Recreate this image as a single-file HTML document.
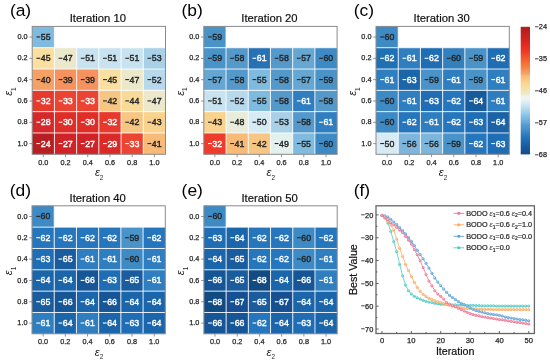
<!DOCTYPE html><html><head><meta charset="utf-8"><style>html,body{margin:0;padding:0;background:#fff;}svg{display:block;filter:blur(0.35px);}text{font-family:"Liberation Sans", sans-serif;}</style></head><body>
<svg width="550" height="362" viewBox="0 0 550 362">
<rect width="550" height="362" fill="#fff"/>
<text x="9.90" y="16.40" font-size="17.4" fill="#000">(a)</text>
<text x="97.85" y="22.20" font-size="11.25" fill="#111" stroke="#111" stroke-width="0.2" text-anchor="middle">Iteration 10</text>
<rect x="32.20" y="26.40" width="22.22" height="21.32" fill="#7EBBDF"/>
<rect x="32.20" y="47.72" width="22.22" height="21.32" fill="#F9DFA0"/>
<rect x="54.42" y="47.72" width="22.22" height="21.32" fill="#ECE8CC"/>
<rect x="76.63" y="47.72" width="22.22" height="21.32" fill="#C8E3EF"/>
<rect x="98.85" y="47.72" width="22.22" height="21.32" fill="#C8E3EF"/>
<rect x="121.07" y="47.72" width="22.22" height="21.32" fill="#C8E3EF"/>
<rect x="143.28" y="47.72" width="22.22" height="21.32" fill="#A8D0E6"/>
<rect x="32.20" y="69.03" width="22.22" height="21.32" fill="#F5A065"/>
<rect x="54.42" y="69.03" width="22.22" height="21.32" fill="#F5925E"/>
<rect x="76.63" y="69.03" width="22.22" height="21.32" fill="#F5925E"/>
<rect x="98.85" y="69.03" width="22.22" height="21.32" fill="#F9DFA0"/>
<rect x="121.07" y="69.03" width="22.22" height="21.32" fill="#ECE8CC"/>
<rect x="143.28" y="69.03" width="22.22" height="21.32" fill="#B8D9EB"/>
<rect x="32.20" y="90.35" width="22.22" height="21.32" fill="#E8392D"/>
<rect x="54.42" y="90.35" width="22.22" height="21.32" fill="#EB4432"/>
<rect x="76.63" y="90.35" width="22.22" height="21.32" fill="#EB4432"/>
<rect x="98.85" y="90.35" width="22.22" height="21.32" fill="#F8C683"/>
<rect x="121.07" y="90.35" width="22.22" height="21.32" fill="#F9DA98"/>
<rect x="143.28" y="90.35" width="22.22" height="21.32" fill="#ECE8CC"/>
<rect x="32.20" y="111.67" width="22.22" height="21.32" fill="#D5282A"/>
<rect x="54.42" y="111.67" width="22.22" height="21.32" fill="#DE2E27"/>
<rect x="76.63" y="111.67" width="22.22" height="21.32" fill="#DE2E27"/>
<rect x="98.85" y="111.67" width="22.22" height="21.32" fill="#E8392D"/>
<rect x="121.07" y="111.67" width="22.22" height="21.32" fill="#F8C683"/>
<rect x="143.28" y="111.67" width="22.22" height="21.32" fill="#F9D28D"/>
<rect x="32.20" y="132.98" width="22.22" height="21.32" fill="#B71F22"/>
<rect x="54.42" y="132.98" width="22.22" height="21.32" fill="#CF2328"/>
<rect x="76.63" y="132.98" width="22.22" height="21.32" fill="#CF2328"/>
<rect x="98.85" y="132.98" width="22.22" height="21.32" fill="#DA2A28"/>
<rect x="121.07" y="132.98" width="22.22" height="21.32" fill="#EB4432"/>
<rect x="143.28" y="132.98" width="22.22" height="21.32" fill="#F8BA78"/>
<line x1="54.42" y1="47.72" x2="54.42" y2="154.30" stroke="#fff" stroke-width="0.85"/>
<line x1="76.63" y1="47.72" x2="76.63" y2="154.30" stroke="#fff" stroke-width="0.85"/>
<line x1="98.85" y1="47.72" x2="98.85" y2="154.30" stroke="#fff" stroke-width="0.85"/>
<line x1="121.07" y1="47.72" x2="121.07" y2="154.30" stroke="#fff" stroke-width="0.85"/>
<line x1="143.28" y1="47.72" x2="143.28" y2="154.30" stroke="#fff" stroke-width="0.85"/>
<line x1="54.42" y1="26.40" x2="54.42" y2="47.72" stroke="#fff" stroke-width="0.85"/>
<line x1="32.20" y1="47.72" x2="165.50" y2="47.72" stroke="#fff" stroke-width="0.85"/>
<line x1="32.20" y1="69.03" x2="165.50" y2="69.03" stroke="#fff" stroke-width="0.85"/>
<line x1="32.20" y1="90.35" x2="165.50" y2="90.35" stroke="#fff" stroke-width="0.85"/>
<line x1="32.20" y1="111.67" x2="165.50" y2="111.67" stroke="#fff" stroke-width="0.85"/>
<line x1="32.20" y1="132.98" x2="165.50" y2="132.98" stroke="#fff" stroke-width="0.85"/>
<rect x="36.41" y="36.41" width="3.8" height="1.1" fill="#262626"/>
<text x="40.76" y="40.06" font-size="8.8" fill="#262626" stroke="#262626" stroke-width="0.4">55</text>
<rect x="36.41" y="57.73" width="3.8" height="1.1" fill="#262626"/>
<text x="40.76" y="61.38" font-size="8.8" fill="#262626" stroke="#262626" stroke-width="0.4">45</text>
<rect x="58.63" y="57.73" width="3.8" height="1.1" fill="#262626"/>
<text x="62.98" y="61.38" font-size="8.8" fill="#262626" stroke="#262626" stroke-width="0.4">47</text>
<rect x="80.84" y="57.73" width="3.8" height="1.1" fill="#262626"/>
<text x="85.19" y="61.38" font-size="8.8" fill="#262626" stroke="#262626" stroke-width="0.4">51</text>
<rect x="103.06" y="57.73" width="3.8" height="1.1" fill="#262626"/>
<text x="107.41" y="61.38" font-size="8.8" fill="#262626" stroke="#262626" stroke-width="0.4">51</text>
<rect x="125.28" y="57.73" width="3.8" height="1.1" fill="#262626"/>
<text x="129.62" y="61.38" font-size="8.8" fill="#262626" stroke="#262626" stroke-width="0.4">51</text>
<rect x="147.49" y="57.73" width="3.8" height="1.1" fill="#262626"/>
<text x="151.84" y="61.38" font-size="8.8" fill="#262626" stroke="#262626" stroke-width="0.4">53</text>
<rect x="36.41" y="79.04" width="3.8" height="1.1" fill="#262626"/>
<text x="40.76" y="82.69" font-size="8.8" fill="#262626" stroke="#262626" stroke-width="0.4">40</text>
<rect x="58.63" y="79.04" width="3.8" height="1.1" fill="#262626"/>
<text x="62.98" y="82.69" font-size="8.8" fill="#262626" stroke="#262626" stroke-width="0.4">39</text>
<rect x="80.84" y="79.04" width="3.8" height="1.1" fill="#262626"/>
<text x="85.19" y="82.69" font-size="8.8" fill="#262626" stroke="#262626" stroke-width="0.4">39</text>
<rect x="103.06" y="79.04" width="3.8" height="1.1" fill="#262626"/>
<text x="107.41" y="82.69" font-size="8.8" fill="#262626" stroke="#262626" stroke-width="0.4">45</text>
<rect x="125.28" y="79.04" width="3.8" height="1.1" fill="#262626"/>
<text x="129.62" y="82.69" font-size="8.8" fill="#262626" stroke="#262626" stroke-width="0.4">47</text>
<rect x="147.49" y="79.04" width="3.8" height="1.1" fill="#262626"/>
<text x="151.84" y="82.69" font-size="8.8" fill="#262626" stroke="#262626" stroke-width="0.4">52</text>
<rect x="36.41" y="100.36" width="3.8" height="1.1" fill="#ffffff"/>
<text x="40.76" y="104.01" font-size="8.8" fill="#ffffff" stroke="#ffffff" stroke-width="0.4">32</text>
<rect x="58.63" y="100.36" width="3.8" height="1.1" fill="#ffffff"/>
<text x="62.98" y="104.01" font-size="8.8" fill="#ffffff" stroke="#ffffff" stroke-width="0.4">33</text>
<rect x="80.84" y="100.36" width="3.8" height="1.1" fill="#ffffff"/>
<text x="85.19" y="104.01" font-size="8.8" fill="#ffffff" stroke="#ffffff" stroke-width="0.4">33</text>
<rect x="103.06" y="100.36" width="3.8" height="1.1" fill="#262626"/>
<text x="107.41" y="104.01" font-size="8.8" fill="#262626" stroke="#262626" stroke-width="0.4">42</text>
<rect x="125.28" y="100.36" width="3.8" height="1.1" fill="#262626"/>
<text x="129.62" y="104.01" font-size="8.8" fill="#262626" stroke="#262626" stroke-width="0.4">44</text>
<rect x="147.49" y="100.36" width="3.8" height="1.1" fill="#262626"/>
<text x="151.84" y="104.01" font-size="8.8" fill="#262626" stroke="#262626" stroke-width="0.4">47</text>
<rect x="36.41" y="121.67" width="3.8" height="1.1" fill="#ffffff"/>
<text x="40.76" y="125.32" font-size="8.8" fill="#ffffff" stroke="#ffffff" stroke-width="0.4">28</text>
<rect x="58.63" y="121.67" width="3.8" height="1.1" fill="#ffffff"/>
<text x="62.98" y="125.32" font-size="8.8" fill="#ffffff" stroke="#ffffff" stroke-width="0.4">30</text>
<rect x="80.84" y="121.67" width="3.8" height="1.1" fill="#ffffff"/>
<text x="85.19" y="125.32" font-size="8.8" fill="#ffffff" stroke="#ffffff" stroke-width="0.4">30</text>
<rect x="103.06" y="121.67" width="3.8" height="1.1" fill="#ffffff"/>
<text x="107.41" y="125.32" font-size="8.8" fill="#ffffff" stroke="#ffffff" stroke-width="0.4">32</text>
<rect x="125.28" y="121.67" width="3.8" height="1.1" fill="#262626"/>
<text x="129.62" y="125.32" font-size="8.8" fill="#262626" stroke="#262626" stroke-width="0.4">42</text>
<rect x="147.49" y="121.67" width="3.8" height="1.1" fill="#262626"/>
<text x="151.84" y="125.32" font-size="8.8" fill="#262626" stroke="#262626" stroke-width="0.4">43</text>
<rect x="36.41" y="142.99" width="3.8" height="1.1" fill="#ffffff"/>
<text x="40.76" y="146.64" font-size="8.8" fill="#ffffff" stroke="#ffffff" stroke-width="0.4">24</text>
<rect x="58.63" y="142.99" width="3.8" height="1.1" fill="#ffffff"/>
<text x="62.98" y="146.64" font-size="8.8" fill="#ffffff" stroke="#ffffff" stroke-width="0.4">27</text>
<rect x="80.84" y="142.99" width="3.8" height="1.1" fill="#ffffff"/>
<text x="85.19" y="146.64" font-size="8.8" fill="#ffffff" stroke="#ffffff" stroke-width="0.4">27</text>
<rect x="103.06" y="142.99" width="3.8" height="1.1" fill="#ffffff"/>
<text x="107.41" y="146.64" font-size="8.8" fill="#ffffff" stroke="#ffffff" stroke-width="0.4">29</text>
<rect x="125.28" y="142.99" width="3.8" height="1.1" fill="#ffffff"/>
<text x="129.62" y="146.64" font-size="8.8" fill="#ffffff" stroke="#ffffff" stroke-width="0.4">33</text>
<rect x="147.49" y="142.99" width="3.8" height="1.1" fill="#262626"/>
<text x="151.84" y="146.64" font-size="8.8" fill="#262626" stroke="#262626" stroke-width="0.4">41</text>
<rect x="32.20" y="26.40" width="133.30" height="127.90" fill="none" stroke="#8a8a8a" stroke-width="1"/>
<line x1="29.40" y1="37.06" x2="32.20" y2="37.06" stroke="#777" stroke-width="0.8"/>
<text x="27.70" y="39.16" font-size="7.3" fill="#262626" stroke="#262626" stroke-width="0.25" text-anchor="end">0.0</text>
<line x1="43.31" y1="154.30" x2="43.31" y2="157.10" stroke="#777" stroke-width="0.8"/>
<text x="43.31" y="164.70" font-size="7.3" fill="#262626" stroke="#262626" stroke-width="0.25" text-anchor="middle">0.0</text>
<line x1="29.40" y1="58.38" x2="32.20" y2="58.38" stroke="#777" stroke-width="0.8"/>
<text x="27.70" y="60.48" font-size="7.3" fill="#262626" stroke="#262626" stroke-width="0.25" text-anchor="end">0.2</text>
<line x1="65.53" y1="154.30" x2="65.53" y2="157.10" stroke="#777" stroke-width="0.8"/>
<text x="65.53" y="164.70" font-size="7.3" fill="#262626" stroke="#262626" stroke-width="0.25" text-anchor="middle">0.2</text>
<line x1="29.40" y1="79.69" x2="32.20" y2="79.69" stroke="#777" stroke-width="0.8"/>
<text x="27.70" y="81.79" font-size="7.3" fill="#262626" stroke="#262626" stroke-width="0.25" text-anchor="end">0.4</text>
<line x1="87.74" y1="154.30" x2="87.74" y2="157.10" stroke="#777" stroke-width="0.8"/>
<text x="87.74" y="164.70" font-size="7.3" fill="#262626" stroke="#262626" stroke-width="0.25" text-anchor="middle">0.4</text>
<line x1="29.40" y1="101.01" x2="32.20" y2="101.01" stroke="#777" stroke-width="0.8"/>
<text x="27.70" y="103.11" font-size="7.3" fill="#262626" stroke="#262626" stroke-width="0.25" text-anchor="end">0.6</text>
<line x1="109.96" y1="154.30" x2="109.96" y2="157.10" stroke="#777" stroke-width="0.8"/>
<text x="109.96" y="164.70" font-size="7.3" fill="#262626" stroke="#262626" stroke-width="0.25" text-anchor="middle">0.6</text>
<line x1="29.40" y1="122.32" x2="32.20" y2="122.32" stroke="#777" stroke-width="0.8"/>
<text x="27.70" y="124.42" font-size="7.3" fill="#262626" stroke="#262626" stroke-width="0.25" text-anchor="end">0.8</text>
<line x1="132.18" y1="154.30" x2="132.18" y2="157.10" stroke="#777" stroke-width="0.8"/>
<text x="132.18" y="164.70" font-size="7.3" fill="#262626" stroke="#262626" stroke-width="0.25" text-anchor="middle">0.8</text>
<line x1="29.40" y1="143.64" x2="32.20" y2="143.64" stroke="#777" stroke-width="0.8"/>
<text x="27.70" y="145.74" font-size="7.3" fill="#262626" stroke="#262626" stroke-width="0.25" text-anchor="end">1.0</text>
<line x1="154.39" y1="154.30" x2="154.39" y2="157.10" stroke="#777" stroke-width="0.8"/>
<text x="154.39" y="164.70" font-size="7.3" fill="#262626" stroke="#262626" stroke-width="0.25" text-anchor="middle">1.0</text>
<text x="99.15" y="176.10" font-size="11.2" fill="#262626" text-anchor="middle"><tspan font-style="italic">ε</tspan><tspan font-size="6.4" dy="3.4">2</tspan></text>
<text transform="translate(12.40,91.55) rotate(-90)" font-size="11.2" fill="#262626" text-anchor="middle"><tspan font-style="italic">ε</tspan><tspan font-size="6.4" dy="3.4">1</tspan></text>
<text x="181.50" y="16.40" font-size="17.4" fill="#000">(b)</text>
<text x="269.45" y="22.20" font-size="11.25" fill="#111" stroke="#111" stroke-width="0.2" text-anchor="middle">Iteration 20</text>
<rect x="203.80" y="26.40" width="22.22" height="21.32" fill="#4A93C9"/>
<rect x="203.80" y="47.72" width="22.22" height="21.32" fill="#4A93C9"/>
<rect x="226.02" y="47.72" width="22.22" height="21.32" fill="#5598CA"/>
<rect x="248.23" y="47.72" width="22.22" height="21.32" fill="#2672B5"/>
<rect x="270.45" y="47.72" width="22.22" height="21.32" fill="#5598CA"/>
<rect x="292.67" y="47.72" width="22.22" height="21.32" fill="#65A7D2"/>
<rect x="314.88" y="47.72" width="22.22" height="21.32" fill="#3D8AC5"/>
<rect x="203.80" y="69.03" width="22.22" height="21.32" fill="#65A7D2"/>
<rect x="226.02" y="69.03" width="22.22" height="21.32" fill="#5598CA"/>
<rect x="248.23" y="69.03" width="22.22" height="21.32" fill="#7EBBDF"/>
<rect x="270.45" y="69.03" width="22.22" height="21.32" fill="#5598CA"/>
<rect x="292.67" y="69.03" width="22.22" height="21.32" fill="#65A7D2"/>
<rect x="314.88" y="69.03" width="22.22" height="21.32" fill="#4A93C9"/>
<rect x="203.80" y="90.35" width="22.22" height="21.32" fill="#C8E3EF"/>
<rect x="226.02" y="90.35" width="22.22" height="21.32" fill="#B8D9EB"/>
<rect x="248.23" y="90.35" width="22.22" height="21.32" fill="#7EBBDF"/>
<rect x="270.45" y="90.35" width="22.22" height="21.32" fill="#5598CA"/>
<rect x="292.67" y="90.35" width="22.22" height="21.32" fill="#2F7EC0"/>
<rect x="314.88" y="90.35" width="22.22" height="21.32" fill="#5598CA"/>
<rect x="203.80" y="111.67" width="22.22" height="21.32" fill="#F9D28D"/>
<rect x="226.02" y="111.67" width="22.22" height="21.32" fill="#E8ECDA"/>
<rect x="248.23" y="111.67" width="22.22" height="21.32" fill="#D6EBF3"/>
<rect x="270.45" y="111.67" width="22.22" height="21.32" fill="#A8D0E6"/>
<rect x="292.67" y="111.67" width="22.22" height="21.32" fill="#5598CA"/>
<rect x="314.88" y="111.67" width="22.22" height="21.32" fill="#2F7EC0"/>
<rect x="203.80" y="132.98" width="22.22" height="21.32" fill="#EE3B2B"/>
<rect x="226.02" y="132.98" width="22.22" height="21.32" fill="#F8BA78"/>
<rect x="248.23" y="132.98" width="22.22" height="21.32" fill="#F8C683"/>
<rect x="270.45" y="132.98" width="22.22" height="21.32" fill="#E2F0EE"/>
<rect x="292.67" y="132.98" width="22.22" height="21.32" fill="#7EBBDF"/>
<rect x="314.88" y="132.98" width="22.22" height="21.32" fill="#3D8AC5"/>
<line x1="226.02" y1="47.72" x2="226.02" y2="154.30" stroke="#fff" stroke-width="0.85"/>
<line x1="248.23" y1="47.72" x2="248.23" y2="154.30" stroke="#fff" stroke-width="0.85"/>
<line x1="270.45" y1="47.72" x2="270.45" y2="154.30" stroke="#fff" stroke-width="0.85"/>
<line x1="292.67" y1="47.72" x2="292.67" y2="154.30" stroke="#fff" stroke-width="0.85"/>
<line x1="314.88" y1="47.72" x2="314.88" y2="154.30" stroke="#fff" stroke-width="0.85"/>
<line x1="226.02" y1="26.40" x2="226.02" y2="47.72" stroke="#fff" stroke-width="0.85"/>
<line x1="203.80" y1="47.72" x2="337.10" y2="47.72" stroke="#fff" stroke-width="0.85"/>
<line x1="203.80" y1="69.03" x2="337.10" y2="69.03" stroke="#fff" stroke-width="0.85"/>
<line x1="203.80" y1="90.35" x2="337.10" y2="90.35" stroke="#fff" stroke-width="0.85"/>
<line x1="203.80" y1="111.67" x2="337.10" y2="111.67" stroke="#fff" stroke-width="0.85"/>
<line x1="203.80" y1="132.98" x2="337.10" y2="132.98" stroke="#fff" stroke-width="0.85"/>
<rect x="208.01" y="36.41" width="3.8" height="1.1" fill="#262626"/>
<text x="212.36" y="40.06" font-size="8.8" fill="#262626" stroke="#262626" stroke-width="0.4">59</text>
<rect x="208.01" y="57.73" width="3.8" height="1.1" fill="#262626"/>
<text x="212.36" y="61.38" font-size="8.8" fill="#262626" stroke="#262626" stroke-width="0.4">59</text>
<rect x="230.22" y="57.73" width="3.8" height="1.1" fill="#262626"/>
<text x="234.57" y="61.38" font-size="8.8" fill="#262626" stroke="#262626" stroke-width="0.4">58</text>
<rect x="252.44" y="57.73" width="3.8" height="1.1" fill="#ffffff"/>
<text x="256.79" y="61.38" font-size="8.8" fill="#ffffff" stroke="#ffffff" stroke-width="0.4">61</text>
<rect x="274.66" y="57.73" width="3.8" height="1.1" fill="#262626"/>
<text x="279.01" y="61.38" font-size="8.8" fill="#262626" stroke="#262626" stroke-width="0.4">58</text>
<rect x="296.88" y="57.73" width="3.8" height="1.1" fill="#262626"/>
<text x="301.23" y="61.38" font-size="8.8" fill="#262626" stroke="#262626" stroke-width="0.4">57</text>
<rect x="319.09" y="57.73" width="3.8" height="1.1" fill="#262626"/>
<text x="323.44" y="61.38" font-size="8.8" fill="#262626" stroke="#262626" stroke-width="0.4">60</text>
<rect x="208.01" y="79.04" width="3.8" height="1.1" fill="#262626"/>
<text x="212.36" y="82.69" font-size="8.8" fill="#262626" stroke="#262626" stroke-width="0.4">57</text>
<rect x="230.22" y="79.04" width="3.8" height="1.1" fill="#262626"/>
<text x="234.57" y="82.69" font-size="8.8" fill="#262626" stroke="#262626" stroke-width="0.4">58</text>
<rect x="252.44" y="79.04" width="3.8" height="1.1" fill="#262626"/>
<text x="256.79" y="82.69" font-size="8.8" fill="#262626" stroke="#262626" stroke-width="0.4">55</text>
<rect x="274.66" y="79.04" width="3.8" height="1.1" fill="#262626"/>
<text x="279.01" y="82.69" font-size="8.8" fill="#262626" stroke="#262626" stroke-width="0.4">58</text>
<rect x="296.88" y="79.04" width="3.8" height="1.1" fill="#262626"/>
<text x="301.23" y="82.69" font-size="8.8" fill="#262626" stroke="#262626" stroke-width="0.4">57</text>
<rect x="319.09" y="79.04" width="3.8" height="1.1" fill="#262626"/>
<text x="323.44" y="82.69" font-size="8.8" fill="#262626" stroke="#262626" stroke-width="0.4">59</text>
<rect x="208.01" y="100.36" width="3.8" height="1.1" fill="#262626"/>
<text x="212.36" y="104.01" font-size="8.8" fill="#262626" stroke="#262626" stroke-width="0.4">51</text>
<rect x="230.22" y="100.36" width="3.8" height="1.1" fill="#262626"/>
<text x="234.57" y="104.01" font-size="8.8" fill="#262626" stroke="#262626" stroke-width="0.4">52</text>
<rect x="252.44" y="100.36" width="3.8" height="1.1" fill="#262626"/>
<text x="256.79" y="104.01" font-size="8.8" fill="#262626" stroke="#262626" stroke-width="0.4">55</text>
<rect x="274.66" y="100.36" width="3.8" height="1.1" fill="#262626"/>
<text x="279.01" y="104.01" font-size="8.8" fill="#262626" stroke="#262626" stroke-width="0.4">58</text>
<rect x="296.88" y="100.36" width="3.8" height="1.1" fill="#ffffff"/>
<text x="301.23" y="104.01" font-size="8.8" fill="#ffffff" stroke="#ffffff" stroke-width="0.4">61</text>
<rect x="319.09" y="100.36" width="3.8" height="1.1" fill="#262626"/>
<text x="323.44" y="104.01" font-size="8.8" fill="#262626" stroke="#262626" stroke-width="0.4">58</text>
<rect x="208.01" y="121.67" width="3.8" height="1.1" fill="#262626"/>
<text x="212.36" y="125.32" font-size="8.8" fill="#262626" stroke="#262626" stroke-width="0.4">43</text>
<rect x="230.22" y="121.67" width="3.8" height="1.1" fill="#262626"/>
<text x="234.57" y="125.32" font-size="8.8" fill="#262626" stroke="#262626" stroke-width="0.4">48</text>
<rect x="252.44" y="121.67" width="3.8" height="1.1" fill="#262626"/>
<text x="256.79" y="125.32" font-size="8.8" fill="#262626" stroke="#262626" stroke-width="0.4">50</text>
<rect x="274.66" y="121.67" width="3.8" height="1.1" fill="#262626"/>
<text x="279.01" y="125.32" font-size="8.8" fill="#262626" stroke="#262626" stroke-width="0.4">53</text>
<rect x="296.88" y="121.67" width="3.8" height="1.1" fill="#262626"/>
<text x="301.23" y="125.32" font-size="8.8" fill="#262626" stroke="#262626" stroke-width="0.4">58</text>
<rect x="319.09" y="121.67" width="3.8" height="1.1" fill="#ffffff"/>
<text x="323.44" y="125.32" font-size="8.8" fill="#ffffff" stroke="#ffffff" stroke-width="0.4">61</text>
<rect x="208.01" y="142.99" width="3.8" height="1.1" fill="#ffffff"/>
<text x="212.36" y="146.64" font-size="8.8" fill="#ffffff" stroke="#ffffff" stroke-width="0.4">32</text>
<rect x="230.22" y="142.99" width="3.8" height="1.1" fill="#262626"/>
<text x="234.57" y="146.64" font-size="8.8" fill="#262626" stroke="#262626" stroke-width="0.4">41</text>
<rect x="252.44" y="142.99" width="3.8" height="1.1" fill="#262626"/>
<text x="256.79" y="146.64" font-size="8.8" fill="#262626" stroke="#262626" stroke-width="0.4">42</text>
<rect x="274.66" y="142.99" width="3.8" height="1.1" fill="#262626"/>
<text x="279.01" y="146.64" font-size="8.8" fill="#262626" stroke="#262626" stroke-width="0.4">49</text>
<rect x="296.88" y="142.99" width="3.8" height="1.1" fill="#262626"/>
<text x="301.23" y="146.64" font-size="8.8" fill="#262626" stroke="#262626" stroke-width="0.4">55</text>
<rect x="319.09" y="142.99" width="3.8" height="1.1" fill="#262626"/>
<text x="323.44" y="146.64" font-size="8.8" fill="#262626" stroke="#262626" stroke-width="0.4">60</text>
<rect x="203.80" y="26.40" width="133.30" height="127.90" fill="none" stroke="#8a8a8a" stroke-width="1"/>
<line x1="201.00" y1="37.06" x2="203.80" y2="37.06" stroke="#777" stroke-width="0.8"/>
<text x="199.30" y="39.16" font-size="7.3" fill="#262626" stroke="#262626" stroke-width="0.25" text-anchor="end">0.0</text>
<line x1="214.91" y1="154.30" x2="214.91" y2="157.10" stroke="#777" stroke-width="0.8"/>
<text x="214.91" y="164.70" font-size="7.3" fill="#262626" stroke="#262626" stroke-width="0.25" text-anchor="middle">0.0</text>
<line x1="201.00" y1="58.38" x2="203.80" y2="58.38" stroke="#777" stroke-width="0.8"/>
<text x="199.30" y="60.48" font-size="7.3" fill="#262626" stroke="#262626" stroke-width="0.25" text-anchor="end">0.2</text>
<line x1="237.12" y1="154.30" x2="237.12" y2="157.10" stroke="#777" stroke-width="0.8"/>
<text x="237.12" y="164.70" font-size="7.3" fill="#262626" stroke="#262626" stroke-width="0.25" text-anchor="middle">0.2</text>
<line x1="201.00" y1="79.69" x2="203.80" y2="79.69" stroke="#777" stroke-width="0.8"/>
<text x="199.30" y="81.79" font-size="7.3" fill="#262626" stroke="#262626" stroke-width="0.25" text-anchor="end">0.4</text>
<line x1="259.34" y1="154.30" x2="259.34" y2="157.10" stroke="#777" stroke-width="0.8"/>
<text x="259.34" y="164.70" font-size="7.3" fill="#262626" stroke="#262626" stroke-width="0.25" text-anchor="middle">0.4</text>
<line x1="201.00" y1="101.01" x2="203.80" y2="101.01" stroke="#777" stroke-width="0.8"/>
<text x="199.30" y="103.11" font-size="7.3" fill="#262626" stroke="#262626" stroke-width="0.25" text-anchor="end">0.6</text>
<line x1="281.56" y1="154.30" x2="281.56" y2="157.10" stroke="#777" stroke-width="0.8"/>
<text x="281.56" y="164.70" font-size="7.3" fill="#262626" stroke="#262626" stroke-width="0.25" text-anchor="middle">0.6</text>
<line x1="201.00" y1="122.32" x2="203.80" y2="122.32" stroke="#777" stroke-width="0.8"/>
<text x="199.30" y="124.42" font-size="7.3" fill="#262626" stroke="#262626" stroke-width="0.25" text-anchor="end">0.8</text>
<line x1="303.78" y1="154.30" x2="303.78" y2="157.10" stroke="#777" stroke-width="0.8"/>
<text x="303.78" y="164.70" font-size="7.3" fill="#262626" stroke="#262626" stroke-width="0.25" text-anchor="middle">0.8</text>
<line x1="201.00" y1="143.64" x2="203.80" y2="143.64" stroke="#777" stroke-width="0.8"/>
<text x="199.30" y="145.74" font-size="7.3" fill="#262626" stroke="#262626" stroke-width="0.25" text-anchor="end">1.0</text>
<line x1="325.99" y1="154.30" x2="325.99" y2="157.10" stroke="#777" stroke-width="0.8"/>
<text x="325.99" y="164.70" font-size="7.3" fill="#262626" stroke="#262626" stroke-width="0.25" text-anchor="middle">1.0</text>
<text x="270.75" y="176.10" font-size="11.2" fill="#262626" text-anchor="middle"><tspan font-style="italic">ε</tspan><tspan font-size="6.4" dy="3.4">2</tspan></text>
<text transform="translate(184.00,91.55) rotate(-90)" font-size="11.2" fill="#262626" text-anchor="middle"><tspan font-style="italic">ε</tspan><tspan font-size="6.4" dy="3.4">1</tspan></text>
<text x="353.70" y="16.40" font-size="17.4" fill="#000">(c)</text>
<text x="441.65" y="22.20" font-size="11.25" fill="#111" stroke="#111" stroke-width="0.2" text-anchor="middle">Iteration 30</text>
<rect x="376.00" y="26.40" width="22.22" height="21.32" fill="#3D8AC5"/>
<rect x="376.00" y="47.72" width="22.22" height="21.32" fill="#2070B4"/>
<rect x="398.22" y="47.72" width="22.22" height="21.32" fill="#2F7EC0"/>
<rect x="420.43" y="47.72" width="22.22" height="21.32" fill="#1F6DB2"/>
<rect x="442.65" y="47.72" width="22.22" height="21.32" fill="#3380BD"/>
<rect x="464.87" y="47.72" width="22.22" height="21.32" fill="#4A93C9"/>
<rect x="487.08" y="47.72" width="22.22" height="21.32" fill="#1F6DB2"/>
<rect x="376.00" y="69.03" width="22.22" height="21.32" fill="#2F7EC0"/>
<rect x="398.22" y="69.03" width="22.22" height="21.32" fill="#1B65A9"/>
<rect x="420.43" y="69.03" width="22.22" height="21.32" fill="#4A93C9"/>
<rect x="442.65" y="69.03" width="22.22" height="21.32" fill="#2F7EC0"/>
<rect x="464.87" y="69.03" width="22.22" height="21.32" fill="#4A93C9"/>
<rect x="487.08" y="69.03" width="22.22" height="21.32" fill="#2F7EC0"/>
<rect x="376.00" y="90.35" width="22.22" height="21.32" fill="#3D8AC5"/>
<rect x="398.22" y="90.35" width="22.22" height="21.32" fill="#2F7EC0"/>
<rect x="420.43" y="90.35" width="22.22" height="21.32" fill="#1F6DB4"/>
<rect x="442.65" y="90.35" width="22.22" height="21.32" fill="#2676BD"/>
<rect x="464.87" y="90.35" width="22.22" height="21.32" fill="#185B9D"/>
<rect x="487.08" y="90.35" width="22.22" height="21.32" fill="#2F7EC0"/>
<rect x="376.00" y="111.67" width="22.22" height="21.32" fill="#3D8AC5"/>
<rect x="398.22" y="111.67" width="22.22" height="21.32" fill="#2676BD"/>
<rect x="420.43" y="111.67" width="22.22" height="21.32" fill="#2F7EC0"/>
<rect x="442.65" y="111.67" width="22.22" height="21.32" fill="#2676BD"/>
<rect x="464.87" y="111.67" width="22.22" height="21.32" fill="#1F6DB4"/>
<rect x="487.08" y="111.67" width="22.22" height="21.32" fill="#1B62A6"/>
<rect x="376.00" y="132.98" width="22.22" height="21.32" fill="#D6EBF3"/>
<rect x="398.22" y="132.98" width="22.22" height="21.32" fill="#7DB6DA"/>
<rect x="420.43" y="132.98" width="22.22" height="21.32" fill="#7DB6DA"/>
<rect x="442.65" y="132.98" width="22.22" height="21.32" fill="#4A93C9"/>
<rect x="464.87" y="132.98" width="22.22" height="21.32" fill="#2676BD"/>
<rect x="487.08" y="132.98" width="22.22" height="21.32" fill="#1F6DB4"/>
<line x1="398.22" y1="47.72" x2="398.22" y2="154.30" stroke="#fff" stroke-width="0.85"/>
<line x1="420.43" y1="47.72" x2="420.43" y2="154.30" stroke="#fff" stroke-width="0.85"/>
<line x1="442.65" y1="47.72" x2="442.65" y2="154.30" stroke="#fff" stroke-width="0.85"/>
<line x1="464.87" y1="47.72" x2="464.87" y2="154.30" stroke="#fff" stroke-width="0.85"/>
<line x1="487.08" y1="47.72" x2="487.08" y2="154.30" stroke="#fff" stroke-width="0.85"/>
<line x1="398.22" y1="26.40" x2="398.22" y2="47.72" stroke="#fff" stroke-width="0.85"/>
<line x1="376.00" y1="47.72" x2="509.30" y2="47.72" stroke="#fff" stroke-width="0.85"/>
<line x1="376.00" y1="69.03" x2="509.30" y2="69.03" stroke="#fff" stroke-width="0.85"/>
<line x1="376.00" y1="90.35" x2="509.30" y2="90.35" stroke="#fff" stroke-width="0.85"/>
<line x1="376.00" y1="111.67" x2="509.30" y2="111.67" stroke="#fff" stroke-width="0.85"/>
<line x1="376.00" y1="132.98" x2="509.30" y2="132.98" stroke="#fff" stroke-width="0.85"/>
<rect x="380.21" y="36.41" width="3.8" height="1.1" fill="#262626"/>
<text x="384.56" y="40.06" font-size="8.8" fill="#262626" stroke="#262626" stroke-width="0.4">60</text>
<rect x="380.21" y="57.73" width="3.8" height="1.1" fill="#ffffff"/>
<text x="384.56" y="61.38" font-size="8.8" fill="#ffffff" stroke="#ffffff" stroke-width="0.4">62</text>
<rect x="402.43" y="57.73" width="3.8" height="1.1" fill="#ffffff"/>
<text x="406.77" y="61.38" font-size="8.8" fill="#ffffff" stroke="#ffffff" stroke-width="0.4">61</text>
<rect x="424.64" y="57.73" width="3.8" height="1.1" fill="#ffffff"/>
<text x="428.99" y="61.38" font-size="8.8" fill="#ffffff" stroke="#ffffff" stroke-width="0.4">62</text>
<rect x="446.86" y="57.73" width="3.8" height="1.1" fill="#262626"/>
<text x="451.21" y="61.38" font-size="8.8" fill="#262626" stroke="#262626" stroke-width="0.4">60</text>
<rect x="469.08" y="57.73" width="3.8" height="1.1" fill="#262626"/>
<text x="473.43" y="61.38" font-size="8.8" fill="#262626" stroke="#262626" stroke-width="0.4">59</text>
<rect x="491.29" y="57.73" width="3.8" height="1.1" fill="#ffffff"/>
<text x="495.64" y="61.38" font-size="8.8" fill="#ffffff" stroke="#ffffff" stroke-width="0.4">62</text>
<rect x="380.21" y="79.04" width="3.8" height="1.1" fill="#ffffff"/>
<text x="384.56" y="82.69" font-size="8.8" fill="#ffffff" stroke="#ffffff" stroke-width="0.4">61</text>
<rect x="402.43" y="79.04" width="3.8" height="1.1" fill="#ffffff"/>
<text x="406.77" y="82.69" font-size="8.8" fill="#ffffff" stroke="#ffffff" stroke-width="0.4">63</text>
<rect x="424.64" y="79.04" width="3.8" height="1.1" fill="#262626"/>
<text x="428.99" y="82.69" font-size="8.8" fill="#262626" stroke="#262626" stroke-width="0.4">59</text>
<rect x="446.86" y="79.04" width="3.8" height="1.1" fill="#ffffff"/>
<text x="451.21" y="82.69" font-size="8.8" fill="#ffffff" stroke="#ffffff" stroke-width="0.4">61</text>
<rect x="469.08" y="79.04" width="3.8" height="1.1" fill="#262626"/>
<text x="473.43" y="82.69" font-size="8.8" fill="#262626" stroke="#262626" stroke-width="0.4">59</text>
<rect x="491.29" y="79.04" width="3.8" height="1.1" fill="#ffffff"/>
<text x="495.64" y="82.69" font-size="8.8" fill="#ffffff" stroke="#ffffff" stroke-width="0.4">61</text>
<rect x="380.21" y="100.36" width="3.8" height="1.1" fill="#262626"/>
<text x="384.56" y="104.01" font-size="8.8" fill="#262626" stroke="#262626" stroke-width="0.4">60</text>
<rect x="402.43" y="100.36" width="3.8" height="1.1" fill="#ffffff"/>
<text x="406.77" y="104.01" font-size="8.8" fill="#ffffff" stroke="#ffffff" stroke-width="0.4">61</text>
<rect x="424.64" y="100.36" width="3.8" height="1.1" fill="#ffffff"/>
<text x="428.99" y="104.01" font-size="8.8" fill="#ffffff" stroke="#ffffff" stroke-width="0.4">63</text>
<rect x="446.86" y="100.36" width="3.8" height="1.1" fill="#ffffff"/>
<text x="451.21" y="104.01" font-size="8.8" fill="#ffffff" stroke="#ffffff" stroke-width="0.4">62</text>
<rect x="469.08" y="100.36" width="3.8" height="1.1" fill="#ffffff"/>
<text x="473.43" y="104.01" font-size="8.8" fill="#ffffff" stroke="#ffffff" stroke-width="0.4">64</text>
<rect x="491.29" y="100.36" width="3.8" height="1.1" fill="#ffffff"/>
<text x="495.64" y="104.01" font-size="8.8" fill="#ffffff" stroke="#ffffff" stroke-width="0.4">61</text>
<rect x="380.21" y="121.67" width="3.8" height="1.1" fill="#262626"/>
<text x="384.56" y="125.32" font-size="8.8" fill="#262626" stroke="#262626" stroke-width="0.4">60</text>
<rect x="402.43" y="121.67" width="3.8" height="1.1" fill="#ffffff"/>
<text x="406.77" y="125.32" font-size="8.8" fill="#ffffff" stroke="#ffffff" stroke-width="0.4">62</text>
<rect x="424.64" y="121.67" width="3.8" height="1.1" fill="#ffffff"/>
<text x="428.99" y="125.32" font-size="8.8" fill="#ffffff" stroke="#ffffff" stroke-width="0.4">61</text>
<rect x="446.86" y="121.67" width="3.8" height="1.1" fill="#ffffff"/>
<text x="451.21" y="125.32" font-size="8.8" fill="#ffffff" stroke="#ffffff" stroke-width="0.4">62</text>
<rect x="469.08" y="121.67" width="3.8" height="1.1" fill="#ffffff"/>
<text x="473.43" y="125.32" font-size="8.8" fill="#ffffff" stroke="#ffffff" stroke-width="0.4">63</text>
<rect x="491.29" y="121.67" width="3.8" height="1.1" fill="#ffffff"/>
<text x="495.64" y="125.32" font-size="8.8" fill="#ffffff" stroke="#ffffff" stroke-width="0.4">64</text>
<rect x="380.21" y="142.99" width="3.8" height="1.1" fill="#262626"/>
<text x="384.56" y="146.64" font-size="8.8" fill="#262626" stroke="#262626" stroke-width="0.4">50</text>
<rect x="402.43" y="142.99" width="3.8" height="1.1" fill="#262626"/>
<text x="406.77" y="146.64" font-size="8.8" fill="#262626" stroke="#262626" stroke-width="0.4">56</text>
<rect x="424.64" y="142.99" width="3.8" height="1.1" fill="#262626"/>
<text x="428.99" y="146.64" font-size="8.8" fill="#262626" stroke="#262626" stroke-width="0.4">56</text>
<rect x="446.86" y="142.99" width="3.8" height="1.1" fill="#262626"/>
<text x="451.21" y="146.64" font-size="8.8" fill="#262626" stroke="#262626" stroke-width="0.4">59</text>
<rect x="469.08" y="142.99" width="3.8" height="1.1" fill="#ffffff"/>
<text x="473.43" y="146.64" font-size="8.8" fill="#ffffff" stroke="#ffffff" stroke-width="0.4">62</text>
<rect x="491.29" y="142.99" width="3.8" height="1.1" fill="#ffffff"/>
<text x="495.64" y="146.64" font-size="8.8" fill="#ffffff" stroke="#ffffff" stroke-width="0.4">63</text>
<rect x="376.00" y="26.40" width="133.30" height="127.90" fill="none" stroke="#8a8a8a" stroke-width="1"/>
<line x1="373.20" y1="37.06" x2="376.00" y2="37.06" stroke="#777" stroke-width="0.8"/>
<text x="371.50" y="39.16" font-size="7.3" fill="#262626" stroke="#262626" stroke-width="0.25" text-anchor="end">0.0</text>
<line x1="387.11" y1="154.30" x2="387.11" y2="157.10" stroke="#777" stroke-width="0.8"/>
<text x="387.11" y="164.70" font-size="7.3" fill="#262626" stroke="#262626" stroke-width="0.25" text-anchor="middle">0.0</text>
<line x1="373.20" y1="58.38" x2="376.00" y2="58.38" stroke="#777" stroke-width="0.8"/>
<text x="371.50" y="60.48" font-size="7.3" fill="#262626" stroke="#262626" stroke-width="0.25" text-anchor="end">0.2</text>
<line x1="409.32" y1="154.30" x2="409.32" y2="157.10" stroke="#777" stroke-width="0.8"/>
<text x="409.32" y="164.70" font-size="7.3" fill="#262626" stroke="#262626" stroke-width="0.25" text-anchor="middle">0.2</text>
<line x1="373.20" y1="79.69" x2="376.00" y2="79.69" stroke="#777" stroke-width="0.8"/>
<text x="371.50" y="81.79" font-size="7.3" fill="#262626" stroke="#262626" stroke-width="0.25" text-anchor="end">0.4</text>
<line x1="431.54" y1="154.30" x2="431.54" y2="157.10" stroke="#777" stroke-width="0.8"/>
<text x="431.54" y="164.70" font-size="7.3" fill="#262626" stroke="#262626" stroke-width="0.25" text-anchor="middle">0.4</text>
<line x1="373.20" y1="101.01" x2="376.00" y2="101.01" stroke="#777" stroke-width="0.8"/>
<text x="371.50" y="103.11" font-size="7.3" fill="#262626" stroke="#262626" stroke-width="0.25" text-anchor="end">0.6</text>
<line x1="453.76" y1="154.30" x2="453.76" y2="157.10" stroke="#777" stroke-width="0.8"/>
<text x="453.76" y="164.70" font-size="7.3" fill="#262626" stroke="#262626" stroke-width="0.25" text-anchor="middle">0.6</text>
<line x1="373.20" y1="122.32" x2="376.00" y2="122.32" stroke="#777" stroke-width="0.8"/>
<text x="371.50" y="124.42" font-size="7.3" fill="#262626" stroke="#262626" stroke-width="0.25" text-anchor="end">0.8</text>
<line x1="475.98" y1="154.30" x2="475.98" y2="157.10" stroke="#777" stroke-width="0.8"/>
<text x="475.98" y="164.70" font-size="7.3" fill="#262626" stroke="#262626" stroke-width="0.25" text-anchor="middle">0.8</text>
<line x1="373.20" y1="143.64" x2="376.00" y2="143.64" stroke="#777" stroke-width="0.8"/>
<text x="371.50" y="145.74" font-size="7.3" fill="#262626" stroke="#262626" stroke-width="0.25" text-anchor="end">1.0</text>
<line x1="498.19" y1="154.30" x2="498.19" y2="157.10" stroke="#777" stroke-width="0.8"/>
<text x="498.19" y="164.70" font-size="7.3" fill="#262626" stroke="#262626" stroke-width="0.25" text-anchor="middle">1.0</text>
<text x="442.95" y="176.10" font-size="11.2" fill="#262626" text-anchor="middle"><tspan font-style="italic">ε</tspan><tspan font-size="6.4" dy="3.4">2</tspan></text>
<text transform="translate(356.20,91.55) rotate(-90)" font-size="11.2" fill="#262626" text-anchor="middle"><tspan font-style="italic">ε</tspan><tspan font-size="6.4" dy="3.4">1</tspan></text>
<text x="9.70" y="196.10" font-size="17.4" fill="#000">(d)</text>
<text x="97.65" y="201.90" font-size="11.25" fill="#111" stroke="#111" stroke-width="0.2" text-anchor="middle">Iteration 40</text>
<rect x="32.00" y="205.80" width="22.22" height="21.33" fill="#3D8AC5"/>
<rect x="32.00" y="227.13" width="22.22" height="21.33" fill="#2676BD"/>
<rect x="54.22" y="227.13" width="22.22" height="21.33" fill="#2676BD"/>
<rect x="76.43" y="227.13" width="22.22" height="21.33" fill="#2676BD"/>
<rect x="98.65" y="227.13" width="22.22" height="21.33" fill="#2676BD"/>
<rect x="120.87" y="227.13" width="22.22" height="21.33" fill="#4A93C9"/>
<rect x="143.08" y="227.13" width="22.22" height="21.33" fill="#2676BD"/>
<rect x="32.00" y="248.47" width="22.22" height="21.33" fill="#1F6DB4"/>
<rect x="54.22" y="248.47" width="22.22" height="21.33" fill="#1A5C9E"/>
<rect x="76.43" y="248.47" width="22.22" height="21.33" fill="#2F7EC0"/>
<rect x="98.65" y="248.47" width="22.22" height="21.33" fill="#2F7EC0"/>
<rect x="120.87" y="248.47" width="22.22" height="21.33" fill="#3D8AC5"/>
<rect x="143.08" y="248.47" width="22.22" height="21.33" fill="#2F7EC0"/>
<rect x="32.00" y="269.80" width="22.22" height="21.33" fill="#1B66AA"/>
<rect x="54.22" y="269.80" width="22.22" height="21.33" fill="#1B66AA"/>
<rect x="76.43" y="269.80" width="22.22" height="21.33" fill="#175696"/>
<rect x="98.65" y="269.80" width="22.22" height="21.33" fill="#1F6DB4"/>
<rect x="120.87" y="269.80" width="22.22" height="21.33" fill="#1A5C9E"/>
<rect x="143.08" y="269.80" width="22.22" height="21.33" fill="#2F7EC0"/>
<rect x="32.00" y="291.13" width="22.22" height="21.33" fill="#1A5C9E"/>
<rect x="54.22" y="291.13" width="22.22" height="21.33" fill="#175696"/>
<rect x="76.43" y="291.13" width="22.22" height="21.33" fill="#1B66AA"/>
<rect x="98.65" y="291.13" width="22.22" height="21.33" fill="#175696"/>
<rect x="120.87" y="291.13" width="22.22" height="21.33" fill="#1B66AA"/>
<rect x="143.08" y="291.13" width="22.22" height="21.33" fill="#1B66AA"/>
<rect x="32.00" y="312.47" width="22.22" height="21.33" fill="#2F7EC0"/>
<rect x="54.22" y="312.47" width="22.22" height="21.33" fill="#1B66AA"/>
<rect x="76.43" y="312.47" width="22.22" height="21.33" fill="#2F7EC0"/>
<rect x="98.65" y="312.47" width="22.22" height="21.33" fill="#1B66AA"/>
<rect x="120.87" y="312.47" width="22.22" height="21.33" fill="#1F6DB4"/>
<rect x="143.08" y="312.47" width="22.22" height="21.33" fill="#1B66AA"/>
<line x1="54.22" y1="227.13" x2="54.22" y2="333.80" stroke="#fff" stroke-width="0.85"/>
<line x1="76.43" y1="227.13" x2="76.43" y2="333.80" stroke="#fff" stroke-width="0.85"/>
<line x1="98.65" y1="227.13" x2="98.65" y2="333.80" stroke="#fff" stroke-width="0.85"/>
<line x1="120.87" y1="227.13" x2="120.87" y2="333.80" stroke="#fff" stroke-width="0.85"/>
<line x1="143.08" y1="227.13" x2="143.08" y2="333.80" stroke="#fff" stroke-width="0.85"/>
<line x1="54.22" y1="205.80" x2="54.22" y2="227.13" stroke="#fff" stroke-width="0.85"/>
<line x1="32.00" y1="227.13" x2="165.30" y2="227.13" stroke="#fff" stroke-width="0.85"/>
<line x1="32.00" y1="248.47" x2="165.30" y2="248.47" stroke="#fff" stroke-width="0.85"/>
<line x1="32.00" y1="269.80" x2="165.30" y2="269.80" stroke="#fff" stroke-width="0.85"/>
<line x1="32.00" y1="291.13" x2="165.30" y2="291.13" stroke="#fff" stroke-width="0.85"/>
<line x1="32.00" y1="312.47" x2="165.30" y2="312.47" stroke="#fff" stroke-width="0.85"/>
<rect x="36.21" y="215.82" width="3.8" height="1.1" fill="#262626"/>
<text x="40.56" y="219.47" font-size="8.8" fill="#262626" stroke="#262626" stroke-width="0.4">60</text>
<rect x="36.21" y="237.15" width="3.8" height="1.1" fill="#ffffff"/>
<text x="40.56" y="240.80" font-size="8.8" fill="#ffffff" stroke="#ffffff" stroke-width="0.4">62</text>
<rect x="58.43" y="237.15" width="3.8" height="1.1" fill="#ffffff"/>
<text x="62.78" y="240.80" font-size="8.8" fill="#ffffff" stroke="#ffffff" stroke-width="0.4">62</text>
<rect x="80.64" y="237.15" width="3.8" height="1.1" fill="#ffffff"/>
<text x="84.99" y="240.80" font-size="8.8" fill="#ffffff" stroke="#ffffff" stroke-width="0.4">62</text>
<rect x="102.86" y="237.15" width="3.8" height="1.1" fill="#ffffff"/>
<text x="107.21" y="240.80" font-size="8.8" fill="#ffffff" stroke="#ffffff" stroke-width="0.4">62</text>
<rect x="125.08" y="237.15" width="3.8" height="1.1" fill="#262626"/>
<text x="129.43" y="240.80" font-size="8.8" fill="#262626" stroke="#262626" stroke-width="0.4">59</text>
<rect x="147.29" y="237.15" width="3.8" height="1.1" fill="#ffffff"/>
<text x="151.64" y="240.80" font-size="8.8" fill="#ffffff" stroke="#ffffff" stroke-width="0.4">62</text>
<rect x="36.21" y="258.48" width="3.8" height="1.1" fill="#ffffff"/>
<text x="40.56" y="262.13" font-size="8.8" fill="#ffffff" stroke="#ffffff" stroke-width="0.4">63</text>
<rect x="58.43" y="258.48" width="3.8" height="1.1" fill="#ffffff"/>
<text x="62.78" y="262.13" font-size="8.8" fill="#ffffff" stroke="#ffffff" stroke-width="0.4">65</text>
<rect x="80.64" y="258.48" width="3.8" height="1.1" fill="#ffffff"/>
<text x="84.99" y="262.13" font-size="8.8" fill="#ffffff" stroke="#ffffff" stroke-width="0.4">61</text>
<rect x="102.86" y="258.48" width="3.8" height="1.1" fill="#ffffff"/>
<text x="107.21" y="262.13" font-size="8.8" fill="#ffffff" stroke="#ffffff" stroke-width="0.4">61</text>
<rect x="125.08" y="258.48" width="3.8" height="1.1" fill="#262626"/>
<text x="129.43" y="262.13" font-size="8.8" fill="#262626" stroke="#262626" stroke-width="0.4">60</text>
<rect x="147.29" y="258.48" width="3.8" height="1.1" fill="#ffffff"/>
<text x="151.64" y="262.13" font-size="8.8" fill="#ffffff" stroke="#ffffff" stroke-width="0.4">61</text>
<rect x="36.21" y="279.82" width="3.8" height="1.1" fill="#ffffff"/>
<text x="40.56" y="283.47" font-size="8.8" fill="#ffffff" stroke="#ffffff" stroke-width="0.4">64</text>
<rect x="58.43" y="279.82" width="3.8" height="1.1" fill="#ffffff"/>
<text x="62.78" y="283.47" font-size="8.8" fill="#ffffff" stroke="#ffffff" stroke-width="0.4">64</text>
<rect x="80.64" y="279.82" width="3.8" height="1.1" fill="#ffffff"/>
<text x="84.99" y="283.47" font-size="8.8" fill="#ffffff" stroke="#ffffff" stroke-width="0.4">66</text>
<rect x="102.86" y="279.82" width="3.8" height="1.1" fill="#ffffff"/>
<text x="107.21" y="283.47" font-size="8.8" fill="#ffffff" stroke="#ffffff" stroke-width="0.4">63</text>
<rect x="125.08" y="279.82" width="3.8" height="1.1" fill="#ffffff"/>
<text x="129.43" y="283.47" font-size="8.8" fill="#ffffff" stroke="#ffffff" stroke-width="0.4">65</text>
<rect x="147.29" y="279.82" width="3.8" height="1.1" fill="#ffffff"/>
<text x="151.64" y="283.47" font-size="8.8" fill="#ffffff" stroke="#ffffff" stroke-width="0.4">61</text>
<rect x="36.21" y="301.15" width="3.8" height="1.1" fill="#ffffff"/>
<text x="40.56" y="304.80" font-size="8.8" fill="#ffffff" stroke="#ffffff" stroke-width="0.4">65</text>
<rect x="58.43" y="301.15" width="3.8" height="1.1" fill="#ffffff"/>
<text x="62.78" y="304.80" font-size="8.8" fill="#ffffff" stroke="#ffffff" stroke-width="0.4">66</text>
<rect x="80.64" y="301.15" width="3.8" height="1.1" fill="#ffffff"/>
<text x="84.99" y="304.80" font-size="8.8" fill="#ffffff" stroke="#ffffff" stroke-width="0.4">64</text>
<rect x="102.86" y="301.15" width="3.8" height="1.1" fill="#ffffff"/>
<text x="107.21" y="304.80" font-size="8.8" fill="#ffffff" stroke="#ffffff" stroke-width="0.4">66</text>
<rect x="125.08" y="301.15" width="3.8" height="1.1" fill="#ffffff"/>
<text x="129.43" y="304.80" font-size="8.8" fill="#ffffff" stroke="#ffffff" stroke-width="0.4">64</text>
<rect x="147.29" y="301.15" width="3.8" height="1.1" fill="#ffffff"/>
<text x="151.64" y="304.80" font-size="8.8" fill="#ffffff" stroke="#ffffff" stroke-width="0.4">64</text>
<rect x="36.21" y="322.48" width="3.8" height="1.1" fill="#ffffff"/>
<text x="40.56" y="326.13" font-size="8.8" fill="#ffffff" stroke="#ffffff" stroke-width="0.4">61</text>
<rect x="58.43" y="322.48" width="3.8" height="1.1" fill="#ffffff"/>
<text x="62.78" y="326.13" font-size="8.8" fill="#ffffff" stroke="#ffffff" stroke-width="0.4">64</text>
<rect x="80.64" y="322.48" width="3.8" height="1.1" fill="#ffffff"/>
<text x="84.99" y="326.13" font-size="8.8" fill="#ffffff" stroke="#ffffff" stroke-width="0.4">61</text>
<rect x="102.86" y="322.48" width="3.8" height="1.1" fill="#ffffff"/>
<text x="107.21" y="326.13" font-size="8.8" fill="#ffffff" stroke="#ffffff" stroke-width="0.4">64</text>
<rect x="125.08" y="322.48" width="3.8" height="1.1" fill="#ffffff"/>
<text x="129.43" y="326.13" font-size="8.8" fill="#ffffff" stroke="#ffffff" stroke-width="0.4">63</text>
<rect x="147.29" y="322.48" width="3.8" height="1.1" fill="#ffffff"/>
<text x="151.64" y="326.13" font-size="8.8" fill="#ffffff" stroke="#ffffff" stroke-width="0.4">64</text>
<rect x="32.00" y="205.80" width="133.30" height="128.00" fill="none" stroke="#8a8a8a" stroke-width="1"/>
<line x1="29.20" y1="216.47" x2="32.00" y2="216.47" stroke="#777" stroke-width="0.8"/>
<text x="27.50" y="218.57" font-size="7.3" fill="#262626" stroke="#262626" stroke-width="0.25" text-anchor="end">0.0</text>
<line x1="43.11" y1="333.80" x2="43.11" y2="336.60" stroke="#777" stroke-width="0.8"/>
<text x="43.11" y="344.20" font-size="7.3" fill="#262626" stroke="#262626" stroke-width="0.25" text-anchor="middle">0.0</text>
<line x1="29.20" y1="237.80" x2="32.00" y2="237.80" stroke="#777" stroke-width="0.8"/>
<text x="27.50" y="239.90" font-size="7.3" fill="#262626" stroke="#262626" stroke-width="0.25" text-anchor="end">0.2</text>
<line x1="65.33" y1="333.80" x2="65.33" y2="336.60" stroke="#777" stroke-width="0.8"/>
<text x="65.33" y="344.20" font-size="7.3" fill="#262626" stroke="#262626" stroke-width="0.25" text-anchor="middle">0.2</text>
<line x1="29.20" y1="259.13" x2="32.00" y2="259.13" stroke="#777" stroke-width="0.8"/>
<text x="27.50" y="261.23" font-size="7.3" fill="#262626" stroke="#262626" stroke-width="0.25" text-anchor="end">0.4</text>
<line x1="87.54" y1="333.80" x2="87.54" y2="336.60" stroke="#777" stroke-width="0.8"/>
<text x="87.54" y="344.20" font-size="7.3" fill="#262626" stroke="#262626" stroke-width="0.25" text-anchor="middle">0.4</text>
<line x1="29.20" y1="280.47" x2="32.00" y2="280.47" stroke="#777" stroke-width="0.8"/>
<text x="27.50" y="282.57" font-size="7.3" fill="#262626" stroke="#262626" stroke-width="0.25" text-anchor="end">0.6</text>
<line x1="109.76" y1="333.80" x2="109.76" y2="336.60" stroke="#777" stroke-width="0.8"/>
<text x="109.76" y="344.20" font-size="7.3" fill="#262626" stroke="#262626" stroke-width="0.25" text-anchor="middle">0.6</text>
<line x1="29.20" y1="301.80" x2="32.00" y2="301.80" stroke="#777" stroke-width="0.8"/>
<text x="27.50" y="303.90" font-size="7.3" fill="#262626" stroke="#262626" stroke-width="0.25" text-anchor="end">0.8</text>
<line x1="131.98" y1="333.80" x2="131.98" y2="336.60" stroke="#777" stroke-width="0.8"/>
<text x="131.98" y="344.20" font-size="7.3" fill="#262626" stroke="#262626" stroke-width="0.25" text-anchor="middle">0.8</text>
<line x1="29.20" y1="323.13" x2="32.00" y2="323.13" stroke="#777" stroke-width="0.8"/>
<text x="27.50" y="325.23" font-size="7.3" fill="#262626" stroke="#262626" stroke-width="0.25" text-anchor="end">1.0</text>
<line x1="154.19" y1="333.80" x2="154.19" y2="336.60" stroke="#777" stroke-width="0.8"/>
<text x="154.19" y="344.20" font-size="7.3" fill="#262626" stroke="#262626" stroke-width="0.25" text-anchor="middle">1.0</text>
<text x="98.95" y="355.60" font-size="11.2" fill="#262626" text-anchor="middle"><tspan font-style="italic">ε</tspan><tspan font-size="6.4" dy="3.4">2</tspan></text>
<text transform="translate(12.20,271.00) rotate(-90)" font-size="11.2" fill="#262626" text-anchor="middle"><tspan font-style="italic">ε</tspan><tspan font-size="6.4" dy="3.4">1</tspan></text>
<text x="181.60" y="196.10" font-size="17.4" fill="#000">(e)</text>
<text x="269.55" y="201.90" font-size="11.25" fill="#111" stroke="#111" stroke-width="0.2" text-anchor="middle">Iteration 50</text>
<rect x="203.90" y="205.80" width="22.22" height="21.33" fill="#3D8AC5"/>
<rect x="203.90" y="227.13" width="22.22" height="21.33" fill="#1F6DB4"/>
<rect x="226.12" y="227.13" width="22.22" height="21.33" fill="#1B66AA"/>
<rect x="248.33" y="227.13" width="22.22" height="21.33" fill="#2676BD"/>
<rect x="270.55" y="227.13" width="22.22" height="21.33" fill="#2676BD"/>
<rect x="292.77" y="227.13" width="22.22" height="21.33" fill="#3D8AC5"/>
<rect x="314.98" y="227.13" width="22.22" height="21.33" fill="#2676BD"/>
<rect x="203.90" y="248.47" width="22.22" height="21.33" fill="#1B66AA"/>
<rect x="226.12" y="248.47" width="22.22" height="21.33" fill="#1A5C9E"/>
<rect x="248.33" y="248.47" width="22.22" height="21.33" fill="#2676BD"/>
<rect x="270.55" y="248.47" width="22.22" height="21.33" fill="#2676BD"/>
<rect x="292.77" y="248.47" width="22.22" height="21.33" fill="#3D8AC5"/>
<rect x="314.98" y="248.47" width="22.22" height="21.33" fill="#2F7EC0"/>
<rect x="203.90" y="269.80" width="22.22" height="21.33" fill="#175696"/>
<rect x="226.12" y="269.80" width="22.22" height="21.33" fill="#1A5C9E"/>
<rect x="248.33" y="269.80" width="22.22" height="21.33" fill="#124A82"/>
<rect x="270.55" y="269.80" width="22.22" height="21.33" fill="#1B66AA"/>
<rect x="292.77" y="269.80" width="22.22" height="21.33" fill="#175696"/>
<rect x="314.98" y="269.80" width="22.22" height="21.33" fill="#2F7EC0"/>
<rect x="203.90" y="291.13" width="22.22" height="21.33" fill="#124A82"/>
<rect x="226.12" y="291.13" width="22.22" height="21.33" fill="#165093"/>
<rect x="248.33" y="291.13" width="22.22" height="21.33" fill="#1A5C9E"/>
<rect x="270.55" y="291.13" width="22.22" height="21.33" fill="#165093"/>
<rect x="292.77" y="291.13" width="22.22" height="21.33" fill="#1B66AA"/>
<rect x="314.98" y="291.13" width="22.22" height="21.33" fill="#1B66AA"/>
<rect x="203.90" y="312.47" width="22.22" height="21.33" fill="#175696"/>
<rect x="226.12" y="312.47" width="22.22" height="21.33" fill="#175696"/>
<rect x="248.33" y="312.47" width="22.22" height="21.33" fill="#2676BD"/>
<rect x="270.55" y="312.47" width="22.22" height="21.33" fill="#1B66AA"/>
<rect x="292.77" y="312.47" width="22.22" height="21.33" fill="#1F6DB4"/>
<rect x="314.98" y="312.47" width="22.22" height="21.33" fill="#1B66AA"/>
<line x1="226.12" y1="227.13" x2="226.12" y2="333.80" stroke="#fff" stroke-width="0.85"/>
<line x1="248.33" y1="227.13" x2="248.33" y2="333.80" stroke="#fff" stroke-width="0.85"/>
<line x1="270.55" y1="227.13" x2="270.55" y2="333.80" stroke="#fff" stroke-width="0.85"/>
<line x1="292.77" y1="227.13" x2="292.77" y2="333.80" stroke="#fff" stroke-width="0.85"/>
<line x1="314.98" y1="227.13" x2="314.98" y2="333.80" stroke="#fff" stroke-width="0.85"/>
<line x1="226.12" y1="205.80" x2="226.12" y2="227.13" stroke="#fff" stroke-width="0.85"/>
<line x1="203.90" y1="227.13" x2="337.20" y2="227.13" stroke="#fff" stroke-width="0.85"/>
<line x1="203.90" y1="248.47" x2="337.20" y2="248.47" stroke="#fff" stroke-width="0.85"/>
<line x1="203.90" y1="269.80" x2="337.20" y2="269.80" stroke="#fff" stroke-width="0.85"/>
<line x1="203.90" y1="291.13" x2="337.20" y2="291.13" stroke="#fff" stroke-width="0.85"/>
<line x1="203.90" y1="312.47" x2="337.20" y2="312.47" stroke="#fff" stroke-width="0.85"/>
<rect x="208.11" y="215.82" width="3.8" height="1.1" fill="#262626"/>
<text x="212.46" y="219.47" font-size="8.8" fill="#262626" stroke="#262626" stroke-width="0.4">60</text>
<rect x="208.11" y="237.15" width="3.8" height="1.1" fill="#ffffff"/>
<text x="212.46" y="240.80" font-size="8.8" fill="#ffffff" stroke="#ffffff" stroke-width="0.4">63</text>
<rect x="230.33" y="237.15" width="3.8" height="1.1" fill="#ffffff"/>
<text x="234.68" y="240.80" font-size="8.8" fill="#ffffff" stroke="#ffffff" stroke-width="0.4">64</text>
<rect x="252.54" y="237.15" width="3.8" height="1.1" fill="#ffffff"/>
<text x="256.89" y="240.80" font-size="8.8" fill="#ffffff" stroke="#ffffff" stroke-width="0.4">62</text>
<rect x="274.76" y="237.15" width="3.8" height="1.1" fill="#ffffff"/>
<text x="279.11" y="240.80" font-size="8.8" fill="#ffffff" stroke="#ffffff" stroke-width="0.4">62</text>
<rect x="296.98" y="237.15" width="3.8" height="1.1" fill="#262626"/>
<text x="301.32" y="240.80" font-size="8.8" fill="#262626" stroke="#262626" stroke-width="0.4">60</text>
<rect x="319.19" y="237.15" width="3.8" height="1.1" fill="#ffffff"/>
<text x="323.54" y="240.80" font-size="8.8" fill="#ffffff" stroke="#ffffff" stroke-width="0.4">62</text>
<rect x="208.11" y="258.48" width="3.8" height="1.1" fill="#ffffff"/>
<text x="212.46" y="262.13" font-size="8.8" fill="#ffffff" stroke="#ffffff" stroke-width="0.4">64</text>
<rect x="230.33" y="258.48" width="3.8" height="1.1" fill="#ffffff"/>
<text x="234.68" y="262.13" font-size="8.8" fill="#ffffff" stroke="#ffffff" stroke-width="0.4">65</text>
<rect x="252.54" y="258.48" width="3.8" height="1.1" fill="#ffffff"/>
<text x="256.89" y="262.13" font-size="8.8" fill="#ffffff" stroke="#ffffff" stroke-width="0.4">62</text>
<rect x="274.76" y="258.48" width="3.8" height="1.1" fill="#ffffff"/>
<text x="279.11" y="262.13" font-size="8.8" fill="#ffffff" stroke="#ffffff" stroke-width="0.4">62</text>
<rect x="296.98" y="258.48" width="3.8" height="1.1" fill="#262626"/>
<text x="301.32" y="262.13" font-size="8.8" fill="#262626" stroke="#262626" stroke-width="0.4">60</text>
<rect x="319.19" y="258.48" width="3.8" height="1.1" fill="#ffffff"/>
<text x="323.54" y="262.13" font-size="8.8" fill="#ffffff" stroke="#ffffff" stroke-width="0.4">61</text>
<rect x="208.11" y="279.82" width="3.8" height="1.1" fill="#ffffff"/>
<text x="212.46" y="283.47" font-size="8.8" fill="#ffffff" stroke="#ffffff" stroke-width="0.4">66</text>
<rect x="230.33" y="279.82" width="3.8" height="1.1" fill="#ffffff"/>
<text x="234.68" y="283.47" font-size="8.8" fill="#ffffff" stroke="#ffffff" stroke-width="0.4">65</text>
<rect x="252.54" y="279.82" width="3.8" height="1.1" fill="#ffffff"/>
<text x="256.89" y="283.47" font-size="8.8" fill="#ffffff" stroke="#ffffff" stroke-width="0.4">68</text>
<rect x="274.76" y="279.82" width="3.8" height="1.1" fill="#ffffff"/>
<text x="279.11" y="283.47" font-size="8.8" fill="#ffffff" stroke="#ffffff" stroke-width="0.4">64</text>
<rect x="296.98" y="279.82" width="3.8" height="1.1" fill="#ffffff"/>
<text x="301.32" y="283.47" font-size="8.8" fill="#ffffff" stroke="#ffffff" stroke-width="0.4">66</text>
<rect x="319.19" y="279.82" width="3.8" height="1.1" fill="#ffffff"/>
<text x="323.54" y="283.47" font-size="8.8" fill="#ffffff" stroke="#ffffff" stroke-width="0.4">61</text>
<rect x="208.11" y="301.15" width="3.8" height="1.1" fill="#ffffff"/>
<text x="212.46" y="304.80" font-size="8.8" fill="#ffffff" stroke="#ffffff" stroke-width="0.4">68</text>
<rect x="230.33" y="301.15" width="3.8" height="1.1" fill="#ffffff"/>
<text x="234.68" y="304.80" font-size="8.8" fill="#ffffff" stroke="#ffffff" stroke-width="0.4">67</text>
<rect x="252.54" y="301.15" width="3.8" height="1.1" fill="#ffffff"/>
<text x="256.89" y="304.80" font-size="8.8" fill="#ffffff" stroke="#ffffff" stroke-width="0.4">65</text>
<rect x="274.76" y="301.15" width="3.8" height="1.1" fill="#ffffff"/>
<text x="279.11" y="304.80" font-size="8.8" fill="#ffffff" stroke="#ffffff" stroke-width="0.4">67</text>
<rect x="296.98" y="301.15" width="3.8" height="1.1" fill="#ffffff"/>
<text x="301.32" y="304.80" font-size="8.8" fill="#ffffff" stroke="#ffffff" stroke-width="0.4">64</text>
<rect x="319.19" y="301.15" width="3.8" height="1.1" fill="#ffffff"/>
<text x="323.54" y="304.80" font-size="8.8" fill="#ffffff" stroke="#ffffff" stroke-width="0.4">64</text>
<rect x="208.11" y="322.48" width="3.8" height="1.1" fill="#ffffff"/>
<text x="212.46" y="326.13" font-size="8.8" fill="#ffffff" stroke="#ffffff" stroke-width="0.4">66</text>
<rect x="230.33" y="322.48" width="3.8" height="1.1" fill="#ffffff"/>
<text x="234.68" y="326.13" font-size="8.8" fill="#ffffff" stroke="#ffffff" stroke-width="0.4">66</text>
<rect x="252.54" y="322.48" width="3.8" height="1.1" fill="#ffffff"/>
<text x="256.89" y="326.13" font-size="8.8" fill="#ffffff" stroke="#ffffff" stroke-width="0.4">62</text>
<rect x="274.76" y="322.48" width="3.8" height="1.1" fill="#ffffff"/>
<text x="279.11" y="326.13" font-size="8.8" fill="#ffffff" stroke="#ffffff" stroke-width="0.4">64</text>
<rect x="296.98" y="322.48" width="3.8" height="1.1" fill="#ffffff"/>
<text x="301.32" y="326.13" font-size="8.8" fill="#ffffff" stroke="#ffffff" stroke-width="0.4">63</text>
<rect x="319.19" y="322.48" width="3.8" height="1.1" fill="#ffffff"/>
<text x="323.54" y="326.13" font-size="8.8" fill="#ffffff" stroke="#ffffff" stroke-width="0.4">64</text>
<rect x="203.90" y="205.80" width="133.30" height="128.00" fill="none" stroke="#8a8a8a" stroke-width="1"/>
<line x1="201.10" y1="216.47" x2="203.90" y2="216.47" stroke="#777" stroke-width="0.8"/>
<text x="199.40" y="218.57" font-size="7.3" fill="#262626" stroke="#262626" stroke-width="0.25" text-anchor="end">0.0</text>
<line x1="215.01" y1="333.80" x2="215.01" y2="336.60" stroke="#777" stroke-width="0.8"/>
<text x="215.01" y="344.20" font-size="7.3" fill="#262626" stroke="#262626" stroke-width="0.25" text-anchor="middle">0.0</text>
<line x1="201.10" y1="237.80" x2="203.90" y2="237.80" stroke="#777" stroke-width="0.8"/>
<text x="199.40" y="239.90" font-size="7.3" fill="#262626" stroke="#262626" stroke-width="0.25" text-anchor="end">0.2</text>
<line x1="237.23" y1="333.80" x2="237.23" y2="336.60" stroke="#777" stroke-width="0.8"/>
<text x="237.23" y="344.20" font-size="7.3" fill="#262626" stroke="#262626" stroke-width="0.25" text-anchor="middle">0.2</text>
<line x1="201.10" y1="259.13" x2="203.90" y2="259.13" stroke="#777" stroke-width="0.8"/>
<text x="199.40" y="261.23" font-size="7.3" fill="#262626" stroke="#262626" stroke-width="0.25" text-anchor="end">0.4</text>
<line x1="259.44" y1="333.80" x2="259.44" y2="336.60" stroke="#777" stroke-width="0.8"/>
<text x="259.44" y="344.20" font-size="7.3" fill="#262626" stroke="#262626" stroke-width="0.25" text-anchor="middle">0.4</text>
<line x1="201.10" y1="280.47" x2="203.90" y2="280.47" stroke="#777" stroke-width="0.8"/>
<text x="199.40" y="282.57" font-size="7.3" fill="#262626" stroke="#262626" stroke-width="0.25" text-anchor="end">0.6</text>
<line x1="281.66" y1="333.80" x2="281.66" y2="336.60" stroke="#777" stroke-width="0.8"/>
<text x="281.66" y="344.20" font-size="7.3" fill="#262626" stroke="#262626" stroke-width="0.25" text-anchor="middle">0.6</text>
<line x1="201.10" y1="301.80" x2="203.90" y2="301.80" stroke="#777" stroke-width="0.8"/>
<text x="199.40" y="303.90" font-size="7.3" fill="#262626" stroke="#262626" stroke-width="0.25" text-anchor="end">0.8</text>
<line x1="303.88" y1="333.80" x2="303.88" y2="336.60" stroke="#777" stroke-width="0.8"/>
<text x="303.88" y="344.20" font-size="7.3" fill="#262626" stroke="#262626" stroke-width="0.25" text-anchor="middle">0.8</text>
<line x1="201.10" y1="323.13" x2="203.90" y2="323.13" stroke="#777" stroke-width="0.8"/>
<text x="199.40" y="325.23" font-size="7.3" fill="#262626" stroke="#262626" stroke-width="0.25" text-anchor="end">1.0</text>
<line x1="326.09" y1="333.80" x2="326.09" y2="336.60" stroke="#777" stroke-width="0.8"/>
<text x="326.09" y="344.20" font-size="7.3" fill="#262626" stroke="#262626" stroke-width="0.25" text-anchor="middle">1.0</text>
<text x="270.85" y="355.60" font-size="11.2" fill="#262626" text-anchor="middle"><tspan font-style="italic">ε</tspan><tspan font-size="6.4" dy="3.4">2</tspan></text>
<text transform="translate(184.10,271.00) rotate(-90)" font-size="11.2" fill="#262626" text-anchor="middle"><tspan font-style="italic">ε</tspan><tspan font-size="6.4" dy="3.4">1</tspan></text>
<defs><linearGradient id="cb" x1="0" y1="0" x2="0" y2="1"><stop offset="0.0000" stop-color="#AE1D1D"/><stop offset="0.0227" stop-color="#B61E1E"/><stop offset="0.0455" stop-color="#BF2020"/><stop offset="0.0682" stop-color="#C82221"/><stop offset="0.0909" stop-color="#D02420"/><stop offset="0.1136" stop-color="#DA2620"/><stop offset="0.1364" stop-color="#E2291F"/><stop offset="0.1591" stop-color="#E92E21"/><stop offset="0.1818" stop-color="#EC3625"/><stop offset="0.2045" stop-color="#EE4128"/><stop offset="0.2273" stop-color="#F14E2A"/><stop offset="0.2500" stop-color="#F35C2F"/><stop offset="0.2727" stop-color="#F46834"/><stop offset="0.2955" stop-color="#F5763A"/><stop offset="0.3182" stop-color="#F6823E"/><stop offset="0.3409" stop-color="#F5925E"/><stop offset="0.3636" stop-color="#F5A065"/><stop offset="0.3864" stop-color="#F8BA78"/><stop offset="0.4091" stop-color="#F8C683"/><stop offset="0.4318" stop-color="#F9D28D"/><stop offset="0.4545" stop-color="#F9DA98"/><stop offset="0.4773" stop-color="#F9DFA0"/><stop offset="0.5000" stop-color="#F3E4B5"/><stop offset="0.5227" stop-color="#ECE8CC"/><stop offset="0.5455" stop-color="#F2F4E4"/><stop offset="0.5682" stop-color="#E8F4F5"/><stop offset="0.5909" stop-color="#DAEEF6"/><stop offset="0.6136" stop-color="#CBE6F3"/><stop offset="0.6364" stop-color="#B9DDF0"/><stop offset="0.6591" stop-color="#A7D3EC"/><stop offset="0.6818" stop-color="#94C8E8"/><stop offset="0.7045" stop-color="#82BDE3"/><stop offset="0.7273" stop-color="#74B3DE"/><stop offset="0.7500" stop-color="#62A8D8"/><stop offset="0.7727" stop-color="#5598CA"/><stop offset="0.7955" stop-color="#4A93C9"/><stop offset="0.8182" stop-color="#3D8AC5"/><stop offset="0.8409" stop-color="#2F7EC0"/><stop offset="0.8636" stop-color="#2676BD"/><stop offset="0.8864" stop-color="#1F6DB4"/><stop offset="0.9091" stop-color="#1B66AA"/><stop offset="0.9318" stop-color="#1A5C9E"/><stop offset="0.9545" stop-color="#175696"/><stop offset="0.9773" stop-color="#165093"/><stop offset="1.0000" stop-color="#124A82"/></linearGradient></defs>
<rect x="520.7" y="26.8" width="9.3" height="127.6" fill="url(#cb)"/>
<text x="535.00" y="29.40" font-size="7.3" fill="#262626" stroke="#262626" stroke-width="0.25"><tspan font-size="6.6" dy="-0.3">−</tspan><tspan dy="0.3">24</tspan></text>
<text x="535.00" y="61.30" font-size="7.3" fill="#262626" stroke="#262626" stroke-width="0.25"><tspan font-size="6.6" dy="-0.3">−</tspan><tspan dy="0.3">35</tspan></text>
<text x="535.00" y="93.20" font-size="7.3" fill="#262626" stroke="#262626" stroke-width="0.25"><tspan font-size="6.6" dy="-0.3">−</tspan><tspan dy="0.3">46</tspan></text>
<text x="535.00" y="125.10" font-size="7.3" fill="#262626" stroke="#262626" stroke-width="0.25"><tspan font-size="6.6" dy="-0.3">−</tspan><tspan dy="0.3">57</tspan></text>
<text x="535.00" y="157.00" font-size="7.3" fill="#262626" stroke="#262626" stroke-width="0.25"><tspan font-size="6.6" dy="-0.3">−</tspan><tspan dy="0.3">68</tspan></text>
<text x="353.70" y="196.10" font-size="17.4" fill="#000">(f)</text>
<clipPath id="fclip"><rect x="376.0" y="205.8" width="158.39999999999998" height="127.69999999999999"/></clipPath>
<defs><radialGradient id="g_pink" cx="0.45" cy="0.4" r="0.6"><stop offset="0" stop-color="#f9becc"/><stop offset="0.55" stop-color="#f3859e"/><stop offset="1" stop-color="#F2708E"/></radialGradient><radialGradient id="g_blue" cx="0.45" cy="0.4" r="0.6"><stop offset="0" stop-color="#b4d5ed"/><stop offset="0.55" stop-color="#72afdd"/><stop offset="1" stop-color="#5AA2D8"/></radialGradient><radialGradient id="g_orange" cx="0.45" cy="0.4" r="0.6"><stop offset="0" stop-color="#fdd8b5"/><stop offset="0.55" stop-color="#fbb674"/><stop offset="1" stop-color="#FBAA5C"/></radialGradient><radialGradient id="g_teal" cx="0.45" cy="0.4" r="0.6"><stop offset="0" stop-color="#aee6e2"/><stop offset="0.55" stop-color="#67d1c9"/><stop offset="1" stop-color="#4DC9C0"/></radialGradient></defs>
<g clip-path="url(#fclip)">
<path d="M382.00,215.36 L384.94,217.87 L387.87,222.89 L390.81,231.33 L393.74,241.60 L396.68,251.41 L399.61,264.19 L402.55,275.83 L405.48,284.96 L408.42,290.66 L411.35,294.09 L414.29,296.14 L417.22,297.74 L420.15,299.11 L423.09,300.25 L426.02,301.16 L428.96,302.07 L431.89,302.53 L434.83,303.21 L437.76,303.67 L440.70,304.13 L443.63,304.26 L446.57,304.40 L449.50,304.54 L452.44,304.67 L455.38,304.81 L458.31,304.90 L461.25,304.99 L464.18,305.08 L467.12,305.18 L470.05,305.27 L472.99,305.36 L475.92,305.45 L478.86,305.54 L481.79,305.63 L484.73,305.72 L487.66,305.77 L490.60,305.81 L493.53,305.86 L496.47,305.91 L499.40,305.95 L502.34,305.95 L505.27,305.95 L508.20,305.95 L511.14,305.95 L514.08,305.95 L517.01,305.95 L519.94,305.95 L522.88,305.95 L525.82,305.95 L528.75,305.95" fill="none" stroke="#4DC9C0" stroke-width="0.8"/>
<circle cx="382.00" cy="215.36" r="1.5" fill="url(#g_teal)"/>
<circle cx="384.94" cy="217.87" r="1.5" fill="url(#g_teal)"/>
<circle cx="387.87" cy="222.89" r="1.5" fill="url(#g_teal)"/>
<circle cx="390.81" cy="231.33" r="1.5" fill="url(#g_teal)"/>
<circle cx="393.74" cy="241.60" r="1.5" fill="url(#g_teal)"/>
<circle cx="396.68" cy="251.41" r="1.5" fill="url(#g_teal)"/>
<circle cx="399.61" cy="264.19" r="1.5" fill="url(#g_teal)"/>
<circle cx="402.55" cy="275.83" r="1.5" fill="url(#g_teal)"/>
<circle cx="405.48" cy="284.96" r="1.5" fill="url(#g_teal)"/>
<circle cx="408.42" cy="290.66" r="1.5" fill="url(#g_teal)"/>
<circle cx="411.35" cy="294.09" r="1.5" fill="url(#g_teal)"/>
<circle cx="414.29" cy="296.14" r="1.5" fill="url(#g_teal)"/>
<circle cx="417.22" cy="297.74" r="1.5" fill="url(#g_teal)"/>
<circle cx="420.15" cy="299.11" r="1.5" fill="url(#g_teal)"/>
<circle cx="423.09" cy="300.25" r="1.5" fill="url(#g_teal)"/>
<circle cx="426.02" cy="301.16" r="1.5" fill="url(#g_teal)"/>
<circle cx="428.96" cy="302.07" r="1.5" fill="url(#g_teal)"/>
<circle cx="431.89" cy="302.53" r="1.5" fill="url(#g_teal)"/>
<circle cx="434.83" cy="303.21" r="1.5" fill="url(#g_teal)"/>
<circle cx="437.76" cy="303.67" r="1.5" fill="url(#g_teal)"/>
<circle cx="440.70" cy="304.13" r="1.5" fill="url(#g_teal)"/>
<circle cx="443.63" cy="304.26" r="1.5" fill="url(#g_teal)"/>
<circle cx="446.57" cy="304.40" r="1.5" fill="url(#g_teal)"/>
<circle cx="449.50" cy="304.54" r="1.5" fill="url(#g_teal)"/>
<circle cx="452.44" cy="304.67" r="1.5" fill="url(#g_teal)"/>
<circle cx="455.38" cy="304.81" r="1.5" fill="url(#g_teal)"/>
<circle cx="458.31" cy="304.90" r="1.5" fill="url(#g_teal)"/>
<circle cx="461.25" cy="304.99" r="1.5" fill="url(#g_teal)"/>
<circle cx="464.18" cy="305.08" r="1.5" fill="url(#g_teal)"/>
<circle cx="467.12" cy="305.18" r="1.5" fill="url(#g_teal)"/>
<circle cx="470.05" cy="305.27" r="1.5" fill="url(#g_teal)"/>
<circle cx="472.99" cy="305.36" r="1.5" fill="url(#g_teal)"/>
<circle cx="475.92" cy="305.45" r="1.5" fill="url(#g_teal)"/>
<circle cx="478.86" cy="305.54" r="1.5" fill="url(#g_teal)"/>
<circle cx="481.79" cy="305.63" r="1.5" fill="url(#g_teal)"/>
<circle cx="484.73" cy="305.72" r="1.5" fill="url(#g_teal)"/>
<circle cx="487.66" cy="305.77" r="1.5" fill="url(#g_teal)"/>
<circle cx="490.60" cy="305.81" r="1.5" fill="url(#g_teal)"/>
<circle cx="493.53" cy="305.86" r="1.5" fill="url(#g_teal)"/>
<circle cx="496.47" cy="305.91" r="1.5" fill="url(#g_teal)"/>
<circle cx="499.40" cy="305.95" r="1.5" fill="url(#g_teal)"/>
<circle cx="502.34" cy="305.95" r="1.5" fill="url(#g_teal)"/>
<circle cx="505.27" cy="305.95" r="1.5" fill="url(#g_teal)"/>
<circle cx="508.20" cy="305.95" r="1.5" fill="url(#g_teal)"/>
<circle cx="511.14" cy="305.95" r="1.5" fill="url(#g_teal)"/>
<circle cx="514.08" cy="305.95" r="1.5" fill="url(#g_teal)"/>
<circle cx="517.01" cy="305.95" r="1.5" fill="url(#g_teal)"/>
<circle cx="519.94" cy="305.95" r="1.5" fill="url(#g_teal)"/>
<circle cx="522.88" cy="305.95" r="1.5" fill="url(#g_teal)"/>
<circle cx="525.82" cy="305.95" r="1.5" fill="url(#g_teal)"/>
<circle cx="528.75" cy="305.95" r="1.5" fill="url(#g_teal)"/>
<path d="M382.00,215.36 L384.94,218.09 L387.87,221.29 L390.81,224.94 L393.74,229.96 L396.68,239.09 L399.61,248.22 L402.55,256.20 L405.48,264.19 L408.42,270.58 L411.35,276.51 L414.29,282.22 L417.22,287.24 L420.15,291.35 L423.09,294.31 L426.02,296.60 L428.96,298.19 L431.89,299.56 L434.83,300.70 L437.76,301.84 L440.70,302.53 L443.63,303.44 L446.57,304.35 L449.50,305.27 L452.44,305.95 L455.38,306.64 L458.31,307.32 L461.25,307.78 L464.18,308.23 L467.12,308.39 L470.05,308.54 L472.99,308.69 L475.92,308.84 L478.86,308.99 L481.79,309.15 L484.73,309.22 L487.66,309.30 L490.60,309.37 L493.53,309.38 L496.47,309.39 L499.40,309.40 L502.34,309.41 L505.27,309.42 L508.20,309.43 L511.14,309.44 L514.08,309.45 L517.01,309.45 L519.94,309.46 L522.88,309.47 L525.82,309.48 L528.75,309.49" fill="none" stroke="#FBAA5C" stroke-width="0.8"/>
<circle cx="382.00" cy="215.36" r="1.5" fill="url(#g_orange)"/>
<circle cx="384.94" cy="218.09" r="1.5" fill="url(#g_orange)"/>
<circle cx="387.87" cy="221.29" r="1.5" fill="url(#g_orange)"/>
<circle cx="390.81" cy="224.94" r="1.5" fill="url(#g_orange)"/>
<circle cx="393.74" cy="229.96" r="1.5" fill="url(#g_orange)"/>
<circle cx="396.68" cy="239.09" r="1.5" fill="url(#g_orange)"/>
<circle cx="399.61" cy="248.22" r="1.5" fill="url(#g_orange)"/>
<circle cx="402.55" cy="256.20" r="1.5" fill="url(#g_orange)"/>
<circle cx="405.48" cy="264.19" r="1.5" fill="url(#g_orange)"/>
<circle cx="408.42" cy="270.58" r="1.5" fill="url(#g_orange)"/>
<circle cx="411.35" cy="276.51" r="1.5" fill="url(#g_orange)"/>
<circle cx="414.29" cy="282.22" r="1.5" fill="url(#g_orange)"/>
<circle cx="417.22" cy="287.24" r="1.5" fill="url(#g_orange)"/>
<circle cx="420.15" cy="291.35" r="1.5" fill="url(#g_orange)"/>
<circle cx="423.09" cy="294.31" r="1.5" fill="url(#g_orange)"/>
<circle cx="426.02" cy="296.60" r="1.5" fill="url(#g_orange)"/>
<circle cx="428.96" cy="298.19" r="1.5" fill="url(#g_orange)"/>
<circle cx="431.89" cy="299.56" r="1.5" fill="url(#g_orange)"/>
<circle cx="434.83" cy="300.70" r="1.5" fill="url(#g_orange)"/>
<circle cx="437.76" cy="301.84" r="1.5" fill="url(#g_orange)"/>
<circle cx="440.70" cy="302.53" r="1.5" fill="url(#g_orange)"/>
<circle cx="443.63" cy="303.44" r="1.5" fill="url(#g_orange)"/>
<circle cx="446.57" cy="304.35" r="1.5" fill="url(#g_orange)"/>
<circle cx="449.50" cy="305.27" r="1.5" fill="url(#g_orange)"/>
<circle cx="452.44" cy="305.95" r="1.5" fill="url(#g_orange)"/>
<circle cx="455.38" cy="306.64" r="1.5" fill="url(#g_orange)"/>
<circle cx="458.31" cy="307.32" r="1.5" fill="url(#g_orange)"/>
<circle cx="461.25" cy="307.78" r="1.5" fill="url(#g_orange)"/>
<circle cx="464.18" cy="308.23" r="1.5" fill="url(#g_orange)"/>
<circle cx="467.12" cy="308.39" r="1.5" fill="url(#g_orange)"/>
<circle cx="470.05" cy="308.54" r="1.5" fill="url(#g_orange)"/>
<circle cx="472.99" cy="308.69" r="1.5" fill="url(#g_orange)"/>
<circle cx="475.92" cy="308.84" r="1.5" fill="url(#g_orange)"/>
<circle cx="478.86" cy="308.99" r="1.5" fill="url(#g_orange)"/>
<circle cx="481.79" cy="309.15" r="1.5" fill="url(#g_orange)"/>
<circle cx="484.73" cy="309.22" r="1.5" fill="url(#g_orange)"/>
<circle cx="487.66" cy="309.30" r="1.5" fill="url(#g_orange)"/>
<circle cx="490.60" cy="309.37" r="1.5" fill="url(#g_orange)"/>
<circle cx="493.53" cy="309.38" r="1.5" fill="url(#g_orange)"/>
<circle cx="496.47" cy="309.39" r="1.5" fill="url(#g_orange)"/>
<circle cx="499.40" cy="309.40" r="1.5" fill="url(#g_orange)"/>
<circle cx="502.34" cy="309.41" r="1.5" fill="url(#g_orange)"/>
<circle cx="505.27" cy="309.42" r="1.5" fill="url(#g_orange)"/>
<circle cx="508.20" cy="309.43" r="1.5" fill="url(#g_orange)"/>
<circle cx="511.14" cy="309.44" r="1.5" fill="url(#g_orange)"/>
<circle cx="514.08" cy="309.45" r="1.5" fill="url(#g_orange)"/>
<circle cx="517.01" cy="309.45" r="1.5" fill="url(#g_orange)"/>
<circle cx="519.94" cy="309.46" r="1.5" fill="url(#g_orange)"/>
<circle cx="522.88" cy="309.47" r="1.5" fill="url(#g_orange)"/>
<circle cx="525.82" cy="309.48" r="1.5" fill="url(#g_orange)"/>
<circle cx="528.75" cy="309.49" r="1.5" fill="url(#g_orange)"/>
<path d="M382.00,215.13 L384.94,215.81 L387.87,216.95 L390.81,219.24 L393.74,221.97 L396.68,224.48 L399.61,227.45 L402.55,230.42 L405.48,233.84 L408.42,237.49 L411.35,241.14 L414.29,245.48 L417.22,250.27 L420.15,254.61 L423.09,258.71 L426.02,263.28 L428.96,268.07 L431.89,273.32 L434.83,277.88 L437.76,281.99 L440.70,285.64 L443.63,289.06 L446.57,292.26 L449.50,295.23 L452.44,297.51 L455.38,299.56 L458.31,301.39 L461.25,303.21 L464.18,304.58 L467.12,305.95 L470.05,307.55 L472.99,309.15 L475.92,310.52 L478.86,311.20 L481.79,311.88 L484.73,312.68 L487.66,313.48 L490.60,313.94 L493.53,314.40 L496.47,314.85 L499.40,315.31 L502.34,316.11 L505.27,316.91 L508.20,317.44 L511.14,317.97 L514.08,318.50 L517.01,318.96 L519.94,319.42 L522.88,319.87 L525.82,320.33 L528.75,320.78" fill="none" stroke="#5AA2D8" stroke-width="0.8"/>
<circle cx="382.00" cy="215.13" r="1.5" fill="url(#g_blue)"/>
<circle cx="384.94" cy="215.81" r="1.5" fill="url(#g_blue)"/>
<circle cx="387.87" cy="216.95" r="1.5" fill="url(#g_blue)"/>
<circle cx="390.81" cy="219.24" r="1.5" fill="url(#g_blue)"/>
<circle cx="393.74" cy="221.97" r="1.5" fill="url(#g_blue)"/>
<circle cx="396.68" cy="224.48" r="1.5" fill="url(#g_blue)"/>
<circle cx="399.61" cy="227.45" r="1.5" fill="url(#g_blue)"/>
<circle cx="402.55" cy="230.42" r="1.5" fill="url(#g_blue)"/>
<circle cx="405.48" cy="233.84" r="1.5" fill="url(#g_blue)"/>
<circle cx="408.42" cy="237.49" r="1.5" fill="url(#g_blue)"/>
<circle cx="411.35" cy="241.14" r="1.5" fill="url(#g_blue)"/>
<circle cx="414.29" cy="245.48" r="1.5" fill="url(#g_blue)"/>
<circle cx="417.22" cy="250.27" r="1.5" fill="url(#g_blue)"/>
<circle cx="420.15" cy="254.61" r="1.5" fill="url(#g_blue)"/>
<circle cx="423.09" cy="258.71" r="1.5" fill="url(#g_blue)"/>
<circle cx="426.02" cy="263.28" r="1.5" fill="url(#g_blue)"/>
<circle cx="428.96" cy="268.07" r="1.5" fill="url(#g_blue)"/>
<circle cx="431.89" cy="273.32" r="1.5" fill="url(#g_blue)"/>
<circle cx="434.83" cy="277.88" r="1.5" fill="url(#g_blue)"/>
<circle cx="437.76" cy="281.99" r="1.5" fill="url(#g_blue)"/>
<circle cx="440.70" cy="285.64" r="1.5" fill="url(#g_blue)"/>
<circle cx="443.63" cy="289.06" r="1.5" fill="url(#g_blue)"/>
<circle cx="446.57" cy="292.26" r="1.5" fill="url(#g_blue)"/>
<circle cx="449.50" cy="295.23" r="1.5" fill="url(#g_blue)"/>
<circle cx="452.44" cy="297.51" r="1.5" fill="url(#g_blue)"/>
<circle cx="455.38" cy="299.56" r="1.5" fill="url(#g_blue)"/>
<circle cx="458.31" cy="301.39" r="1.5" fill="url(#g_blue)"/>
<circle cx="461.25" cy="303.21" r="1.5" fill="url(#g_blue)"/>
<circle cx="464.18" cy="304.58" r="1.5" fill="url(#g_blue)"/>
<circle cx="467.12" cy="305.95" r="1.5" fill="url(#g_blue)"/>
<circle cx="470.05" cy="307.55" r="1.5" fill="url(#g_blue)"/>
<circle cx="472.99" cy="309.15" r="1.5" fill="url(#g_blue)"/>
<circle cx="475.92" cy="310.52" r="1.5" fill="url(#g_blue)"/>
<circle cx="478.86" cy="311.20" r="1.5" fill="url(#g_blue)"/>
<circle cx="481.79" cy="311.88" r="1.5" fill="url(#g_blue)"/>
<circle cx="484.73" cy="312.68" r="1.5" fill="url(#g_blue)"/>
<circle cx="487.66" cy="313.48" r="1.5" fill="url(#g_blue)"/>
<circle cx="490.60" cy="313.94" r="1.5" fill="url(#g_blue)"/>
<circle cx="493.53" cy="314.40" r="1.5" fill="url(#g_blue)"/>
<circle cx="496.47" cy="314.85" r="1.5" fill="url(#g_blue)"/>
<circle cx="499.40" cy="315.31" r="1.5" fill="url(#g_blue)"/>
<circle cx="502.34" cy="316.11" r="1.5" fill="url(#g_blue)"/>
<circle cx="505.27" cy="316.91" r="1.5" fill="url(#g_blue)"/>
<circle cx="508.20" cy="317.44" r="1.5" fill="url(#g_blue)"/>
<circle cx="511.14" cy="317.97" r="1.5" fill="url(#g_blue)"/>
<circle cx="514.08" cy="318.50" r="1.5" fill="url(#g_blue)"/>
<circle cx="517.01" cy="318.96" r="1.5" fill="url(#g_blue)"/>
<circle cx="519.94" cy="319.42" r="1.5" fill="url(#g_blue)"/>
<circle cx="522.88" cy="319.87" r="1.5" fill="url(#g_blue)"/>
<circle cx="525.82" cy="320.33" r="1.5" fill="url(#g_blue)"/>
<circle cx="528.75" cy="320.78" r="1.5" fill="url(#g_blue)"/>
<path d="M382.00,215.36 L384.94,217.18 L387.87,219.69 L390.81,222.66 L393.74,224.94 L396.68,227.22 L399.61,229.96 L402.55,232.47 L405.48,236.35 L408.42,240.00 L411.35,244.11 L414.29,249.59 L417.22,254.84 L420.15,260.77 L423.09,267.39 L426.02,274.46 L428.96,281.08 L431.89,285.64 L434.83,290.66 L437.76,294.09 L440.70,296.37 L443.63,299.11 L446.57,302.53 L449.50,304.35 L452.44,305.72 L455.38,306.86 L458.31,308.23 L461.25,309.60 L464.18,310.97 L467.12,312.34 L470.05,313.48 L472.99,314.40 L475.92,315.16 L478.86,315.84 L481.79,316.45 L484.73,317.02 L487.66,317.59 L490.60,318.05 L493.53,318.50 L496.47,318.96 L499.40,319.42 L502.34,319.87 L505.27,320.33 L508.20,320.78 L511.14,321.24 L514.08,321.70 L517.01,322.15 L519.94,322.61 L522.88,323.07 L525.82,323.52 L528.75,323.98" fill="none" stroke="#F2708E" stroke-width="0.8"/>
<circle cx="382.00" cy="215.36" r="1.5" fill="url(#g_pink)"/>
<circle cx="384.94" cy="217.18" r="1.5" fill="url(#g_pink)"/>
<circle cx="387.87" cy="219.69" r="1.5" fill="url(#g_pink)"/>
<circle cx="390.81" cy="222.66" r="1.5" fill="url(#g_pink)"/>
<circle cx="393.74" cy="224.94" r="1.5" fill="url(#g_pink)"/>
<circle cx="396.68" cy="227.22" r="1.5" fill="url(#g_pink)"/>
<circle cx="399.61" cy="229.96" r="1.5" fill="url(#g_pink)"/>
<circle cx="402.55" cy="232.47" r="1.5" fill="url(#g_pink)"/>
<circle cx="405.48" cy="236.35" r="1.5" fill="url(#g_pink)"/>
<circle cx="408.42" cy="240.00" r="1.5" fill="url(#g_pink)"/>
<circle cx="411.35" cy="244.11" r="1.5" fill="url(#g_pink)"/>
<circle cx="414.29" cy="249.59" r="1.5" fill="url(#g_pink)"/>
<circle cx="417.22" cy="254.84" r="1.5" fill="url(#g_pink)"/>
<circle cx="420.15" cy="260.77" r="1.5" fill="url(#g_pink)"/>
<circle cx="423.09" cy="267.39" r="1.5" fill="url(#g_pink)"/>
<circle cx="426.02" cy="274.46" r="1.5" fill="url(#g_pink)"/>
<circle cx="428.96" cy="281.08" r="1.5" fill="url(#g_pink)"/>
<circle cx="431.89" cy="285.64" r="1.5" fill="url(#g_pink)"/>
<circle cx="434.83" cy="290.66" r="1.5" fill="url(#g_pink)"/>
<circle cx="437.76" cy="294.09" r="1.5" fill="url(#g_pink)"/>
<circle cx="440.70" cy="296.37" r="1.5" fill="url(#g_pink)"/>
<circle cx="443.63" cy="299.11" r="1.5" fill="url(#g_pink)"/>
<circle cx="446.57" cy="302.53" r="1.5" fill="url(#g_pink)"/>
<circle cx="449.50" cy="304.35" r="1.5" fill="url(#g_pink)"/>
<circle cx="452.44" cy="305.72" r="1.5" fill="url(#g_pink)"/>
<circle cx="455.38" cy="306.86" r="1.5" fill="url(#g_pink)"/>
<circle cx="458.31" cy="308.23" r="1.5" fill="url(#g_pink)"/>
<circle cx="461.25" cy="309.60" r="1.5" fill="url(#g_pink)"/>
<circle cx="464.18" cy="310.97" r="1.5" fill="url(#g_pink)"/>
<circle cx="467.12" cy="312.34" r="1.5" fill="url(#g_pink)"/>
<circle cx="470.05" cy="313.48" r="1.5" fill="url(#g_pink)"/>
<circle cx="472.99" cy="314.40" r="1.5" fill="url(#g_pink)"/>
<circle cx="475.92" cy="315.16" r="1.5" fill="url(#g_pink)"/>
<circle cx="478.86" cy="315.84" r="1.5" fill="url(#g_pink)"/>
<circle cx="481.79" cy="316.45" r="1.5" fill="url(#g_pink)"/>
<circle cx="484.73" cy="317.02" r="1.5" fill="url(#g_pink)"/>
<circle cx="487.66" cy="317.59" r="1.5" fill="url(#g_pink)"/>
<circle cx="490.60" cy="318.05" r="1.5" fill="url(#g_pink)"/>
<circle cx="493.53" cy="318.50" r="1.5" fill="url(#g_pink)"/>
<circle cx="496.47" cy="318.96" r="1.5" fill="url(#g_pink)"/>
<circle cx="499.40" cy="319.42" r="1.5" fill="url(#g_pink)"/>
<circle cx="502.34" cy="319.87" r="1.5" fill="url(#g_pink)"/>
<circle cx="505.27" cy="320.33" r="1.5" fill="url(#g_pink)"/>
<circle cx="508.20" cy="320.78" r="1.5" fill="url(#g_pink)"/>
<circle cx="511.14" cy="321.24" r="1.5" fill="url(#g_pink)"/>
<circle cx="514.08" cy="321.70" r="1.5" fill="url(#g_pink)"/>
<circle cx="517.01" cy="322.15" r="1.5" fill="url(#g_pink)"/>
<circle cx="519.94" cy="322.61" r="1.5" fill="url(#g_pink)"/>
<circle cx="522.88" cy="323.07" r="1.5" fill="url(#g_pink)"/>
<circle cx="525.82" cy="323.52" r="1.5" fill="url(#g_pink)"/>
<circle cx="528.75" cy="323.98" r="1.5" fill="url(#g_pink)"/>
</g>
<rect x="376.0" y="205.8" width="158.40" height="127.70" fill="none" stroke="#666" stroke-width="1.3"/>
<line x1="382.00" y1="333.50" x2="382.00" y2="330.90" stroke="#555" stroke-width="0.9"/>
<text x="382.00" y="343.10" font-size="7.6" fill="#262626" stroke="#262626" stroke-width="0.25" text-anchor="middle">0</text>
<line x1="396.68" y1="333.50" x2="396.68" y2="332.00" stroke="#555" stroke-width="0.9"/>
<line x1="411.35" y1="333.50" x2="411.35" y2="330.90" stroke="#555" stroke-width="0.9"/>
<text x="411.35" y="343.10" font-size="7.6" fill="#262626" stroke="#262626" stroke-width="0.25" text-anchor="middle">10</text>
<line x1="426.02" y1="333.50" x2="426.02" y2="332.00" stroke="#555" stroke-width="0.9"/>
<line x1="440.70" y1="333.50" x2="440.70" y2="330.90" stroke="#555" stroke-width="0.9"/>
<text x="440.70" y="343.10" font-size="7.6" fill="#262626" stroke="#262626" stroke-width="0.25" text-anchor="middle">20</text>
<line x1="455.38" y1="333.50" x2="455.38" y2="332.00" stroke="#555" stroke-width="0.9"/>
<line x1="470.05" y1="333.50" x2="470.05" y2="330.90" stroke="#555" stroke-width="0.9"/>
<text x="470.05" y="343.10" font-size="7.6" fill="#262626" stroke="#262626" stroke-width="0.25" text-anchor="middle">30</text>
<line x1="484.73" y1="333.50" x2="484.73" y2="332.00" stroke="#555" stroke-width="0.9"/>
<line x1="499.40" y1="333.50" x2="499.40" y2="330.90" stroke="#555" stroke-width="0.9"/>
<text x="499.40" y="343.10" font-size="7.6" fill="#262626" stroke="#262626" stroke-width="0.25" text-anchor="middle">40</text>
<line x1="514.08" y1="333.50" x2="514.08" y2="332.00" stroke="#555" stroke-width="0.9"/>
<line x1="528.75" y1="333.50" x2="528.75" y2="330.90" stroke="#555" stroke-width="0.9"/>
<text x="528.75" y="343.10" font-size="7.6" fill="#262626" stroke="#262626" stroke-width="0.25" text-anchor="middle">50</text>
<line x1="376.00" y1="329.00" x2="378.60" y2="329.00" stroke="#555" stroke-width="0.9"/>
<text x="373.30" y="331.60" font-size="7.4" fill="#262626" stroke="#262626" stroke-width="0.25" text-anchor="end"><tspan font-size="6.4" dy="-0.3">−</tspan><tspan dy="0.3">70</tspan></text>
<line x1="376.00" y1="317.59" x2="377.50" y2="317.59" stroke="#555" stroke-width="0.9"/>
<line x1="376.00" y1="306.18" x2="378.60" y2="306.18" stroke="#555" stroke-width="0.9"/>
<text x="373.30" y="308.78" font-size="7.4" fill="#262626" stroke="#262626" stroke-width="0.25" text-anchor="end"><tspan font-size="6.4" dy="-0.3">−</tspan><tspan dy="0.3">60</tspan></text>
<line x1="376.00" y1="294.77" x2="377.50" y2="294.77" stroke="#555" stroke-width="0.9"/>
<line x1="376.00" y1="283.36" x2="378.60" y2="283.36" stroke="#555" stroke-width="0.9"/>
<text x="373.30" y="285.96" font-size="7.4" fill="#262626" stroke="#262626" stroke-width="0.25" text-anchor="end"><tspan font-size="6.4" dy="-0.3">−</tspan><tspan dy="0.3">50</tspan></text>
<line x1="376.00" y1="271.95" x2="377.50" y2="271.95" stroke="#555" stroke-width="0.9"/>
<line x1="376.00" y1="260.54" x2="378.60" y2="260.54" stroke="#555" stroke-width="0.9"/>
<text x="373.30" y="263.14" font-size="7.4" fill="#262626" stroke="#262626" stroke-width="0.25" text-anchor="end"><tspan font-size="6.4" dy="-0.3">−</tspan><tspan dy="0.3">40</tspan></text>
<line x1="376.00" y1="249.13" x2="377.50" y2="249.13" stroke="#555" stroke-width="0.9"/>
<line x1="376.00" y1="237.72" x2="378.60" y2="237.72" stroke="#555" stroke-width="0.9"/>
<text x="373.30" y="240.32" font-size="7.4" fill="#262626" stroke="#262626" stroke-width="0.25" text-anchor="end"><tspan font-size="6.4" dy="-0.3">−</tspan><tspan dy="0.3">30</tspan></text>
<line x1="376.00" y1="226.31" x2="377.50" y2="226.31" stroke="#555" stroke-width="0.9"/>
<line x1="376.00" y1="214.90" x2="378.60" y2="214.90" stroke="#555" stroke-width="0.9"/>
<text x="373.30" y="217.50" font-size="7.4" fill="#262626" stroke="#262626" stroke-width="0.25" text-anchor="end"><tspan font-size="6.4" dy="-0.3">−</tspan><tspan dy="0.3">20</tspan></text>
<text x="455.20" y="355" font-size="10.7" fill="#111" stroke="#111" stroke-width="0.2" text-anchor="middle">Iteration</text>
<text transform="translate(356.9,269.65) rotate(-90)" font-size="10.7" fill="#111" stroke="#111" stroke-width="0.2" text-anchor="middle">Best Value</text>
<line x1="453.6" y1="213.30" x2="464.1" y2="213.30" stroke="#F2708E" stroke-width="0.9"/>
<circle cx="458.8" cy="213.30" r="1.55" fill="#F2708E"/>
<text x="466.2" y="215.80" font-size="7.25" fill="#222" stroke="#222" stroke-width="0.2">BODO <tspan font-style="italic" fill="#555" stroke="#555">ε</tspan><tspan font-size="5" dy="1.5">1</tspan><tspan dy="-1.5">=0.6 </tspan><tspan font-style="italic" fill="#555" stroke="#555">ε</tspan><tspan font-size="5" dy="1.5">2</tspan><tspan dy="-1.5">=0.4</tspan></text>
<line x1="453.6" y1="224.80" x2="464.1" y2="224.80" stroke="#FBAA5C" stroke-width="0.9"/>
<circle cx="458.8" cy="224.80" r="1.55" fill="#FBAA5C"/>
<text x="466.2" y="227.30" font-size="7.25" fill="#222" stroke="#222" stroke-width="0.2">BODO <tspan font-style="italic" fill="#555" stroke="#555">ε</tspan><tspan font-size="5" dy="1.5">1</tspan><tspan dy="-1.5">=0.6 </tspan><tspan font-style="italic" fill="#555" stroke="#555">ε</tspan><tspan font-size="5" dy="1.5">2</tspan><tspan dy="-1.5">=1.0</tspan></text>
<line x1="453.6" y1="236.30" x2="464.1" y2="236.30" stroke="#5AA2D8" stroke-width="0.9"/>
<circle cx="458.8" cy="236.30" r="1.55" fill="#5AA2D8"/>
<text x="466.2" y="238.80" font-size="7.25" fill="#222" stroke="#222" stroke-width="0.2">BODO <tspan font-style="italic" fill="#555" stroke="#555">ε</tspan><tspan font-size="5" dy="1.5">1</tspan><tspan dy="-1.5">=0.6 </tspan><tspan font-style="italic" fill="#555" stroke="#555">ε</tspan><tspan font-size="5" dy="1.5">2</tspan><tspan dy="-1.5">=0.0</tspan></text>
<line x1="453.6" y1="247.80" x2="464.1" y2="247.80" stroke="#4DC9C0" stroke-width="0.9"/>
<circle cx="458.8" cy="247.80" r="1.55" fill="#4DC9C0"/>
<text x="466.2" y="250.30" font-size="7.25" fill="#222" stroke="#222" stroke-width="0.2">BODO <tspan font-style="italic" fill="#555" stroke="#555">ε</tspan><tspan font-size="5" dy="1.5">1</tspan><tspan dy="-1.5">=0.0</tspan></text>
</svg></body></html>
